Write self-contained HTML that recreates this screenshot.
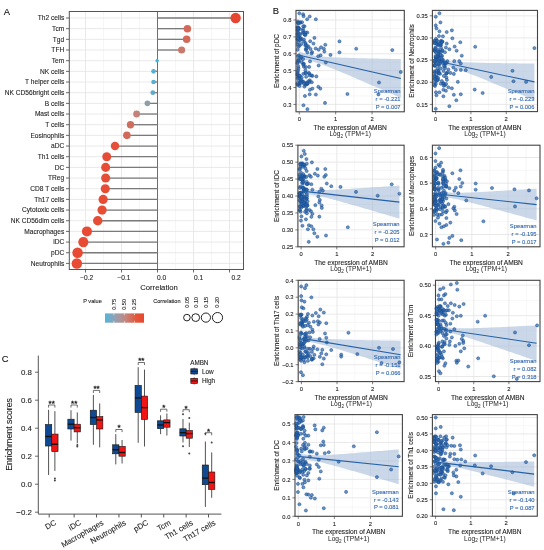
<!DOCTYPE html><html><head><meta charset="utf-8"><style>html,body{margin:0;padding:0;background:#fff;width:544px;height:550px;overflow:hidden}svg{display:block;will-change:transform}</style></head><body><svg width="544" height="550" viewBox="0 0 544 550" font-family='"Liberation Sans", sans-serif'><rect width="544" height="550" fill="#fff"/><text x="3.80" y="14.50" font-size="9.4" text-anchor="start" fill="#111" stroke="#111" stroke-width="0.1">A</text>
<line x1="103.50" y1="11.50" x2="103.50" y2="269.50" stroke="#f0f0f0" stroke-width="0.6"/>
<line x1="139.50" y1="11.50" x2="139.50" y2="269.50" stroke="#f0f0f0" stroke-width="0.6"/>
<line x1="175.50" y1="11.50" x2="175.50" y2="269.50" stroke="#f0f0f0" stroke-width="0.6"/>
<line x1="211.50" y1="11.50" x2="211.50" y2="269.50" stroke="#f0f0f0" stroke-width="0.6"/>
<line x1="85.50" y1="11.50" x2="85.50" y2="269.50" stroke="#e6e6e6" stroke-width="0.9"/>
<line x1="121.50" y1="11.50" x2="121.50" y2="269.50" stroke="#e6e6e6" stroke-width="0.9"/>
<line x1="193.50" y1="11.50" x2="193.50" y2="269.50" stroke="#e6e6e6" stroke-width="0.9"/>
<line x1="229.50" y1="11.50" x2="229.50" y2="269.50" stroke="#e6e6e6" stroke-width="0.9"/>
<line x1="69.30" y1="18.00" x2="243.50" y2="18.00" stroke="#e6e6e6" stroke-width="0.9"/>
<line x1="69.30" y1="28.67" x2="243.50" y2="28.67" stroke="#e6e6e6" stroke-width="0.9"/>
<line x1="69.30" y1="39.34" x2="243.50" y2="39.34" stroke="#e6e6e6" stroke-width="0.9"/>
<line x1="69.30" y1="50.01" x2="243.50" y2="50.01" stroke="#e6e6e6" stroke-width="0.9"/>
<line x1="69.30" y1="60.68" x2="243.50" y2="60.68" stroke="#e6e6e6" stroke-width="0.9"/>
<line x1="69.30" y1="71.35" x2="243.50" y2="71.35" stroke="#e6e6e6" stroke-width="0.9"/>
<line x1="69.30" y1="82.02" x2="243.50" y2="82.02" stroke="#e6e6e6" stroke-width="0.9"/>
<line x1="69.30" y1="92.69" x2="243.50" y2="92.69" stroke="#e6e6e6" stroke-width="0.9"/>
<line x1="69.30" y1="103.36" x2="243.50" y2="103.36" stroke="#e6e6e6" stroke-width="0.9"/>
<line x1="69.30" y1="114.03" x2="243.50" y2="114.03" stroke="#e6e6e6" stroke-width="0.9"/>
<line x1="69.30" y1="124.70" x2="243.50" y2="124.70" stroke="#e6e6e6" stroke-width="0.9"/>
<line x1="69.30" y1="135.37" x2="243.50" y2="135.37" stroke="#e6e6e6" stroke-width="0.9"/>
<line x1="69.30" y1="146.04" x2="243.50" y2="146.04" stroke="#e6e6e6" stroke-width="0.9"/>
<line x1="69.30" y1="156.71" x2="243.50" y2="156.71" stroke="#e6e6e6" stroke-width="0.9"/>
<line x1="69.30" y1="167.38" x2="243.50" y2="167.38" stroke="#e6e6e6" stroke-width="0.9"/>
<line x1="69.30" y1="178.05" x2="243.50" y2="178.05" stroke="#e6e6e6" stroke-width="0.9"/>
<line x1="69.30" y1="188.72" x2="243.50" y2="188.72" stroke="#e6e6e6" stroke-width="0.9"/>
<line x1="69.30" y1="199.39" x2="243.50" y2="199.39" stroke="#e6e6e6" stroke-width="0.9"/>
<line x1="69.30" y1="210.06" x2="243.50" y2="210.06" stroke="#e6e6e6" stroke-width="0.9"/>
<line x1="69.30" y1="220.73" x2="243.50" y2="220.73" stroke="#e6e6e6" stroke-width="0.9"/>
<line x1="69.30" y1="231.40" x2="243.50" y2="231.40" stroke="#e6e6e6" stroke-width="0.9"/>
<line x1="69.30" y1="242.07" x2="243.50" y2="242.07" stroke="#e6e6e6" stroke-width="0.9"/>
<line x1="69.30" y1="252.74" x2="243.50" y2="252.74" stroke="#e6e6e6" stroke-width="0.9"/>
<line x1="69.30" y1="263.41" x2="243.50" y2="263.41" stroke="#e6e6e6" stroke-width="0.9"/>
<line x1="157.50" y1="11.50" x2="157.50" y2="269.50" stroke="#6e6e6e" stroke-width="1.0"/>
<line x1="157.50" y1="18.00" x2="235.62" y2="18.00" stroke="#7a7a7a" stroke-width="1.3"/>
<line x1="157.50" y1="28.67" x2="187.38" y2="28.67" stroke="#7a7a7a" stroke-width="1.3"/>
<line x1="157.50" y1="39.34" x2="186.66" y2="39.34" stroke="#7a7a7a" stroke-width="1.3"/>
<line x1="157.50" y1="50.01" x2="181.62" y2="50.01" stroke="#7a7a7a" stroke-width="1.3"/>
<line x1="157.50" y1="60.68" x2="157.14" y2="60.68" stroke="#7a7a7a" stroke-width="1.3"/>
<line x1="157.50" y1="71.35" x2="153.54" y2="71.35" stroke="#7a7a7a" stroke-width="1.3"/>
<line x1="157.50" y1="82.02" x2="153.54" y2="82.02" stroke="#7a7a7a" stroke-width="1.3"/>
<line x1="157.50" y1="92.69" x2="152.82" y2="92.69" stroke="#7a7a7a" stroke-width="1.3"/>
<line x1="157.50" y1="103.36" x2="147.42" y2="103.36" stroke="#7a7a7a" stroke-width="1.3"/>
<line x1="157.50" y1="114.03" x2="136.62" y2="114.03" stroke="#7a7a7a" stroke-width="1.3"/>
<line x1="157.50" y1="124.70" x2="130.50" y2="124.70" stroke="#7a7a7a" stroke-width="1.3"/>
<line x1="157.50" y1="135.37" x2="126.90" y2="135.37" stroke="#7a7a7a" stroke-width="1.3"/>
<line x1="157.50" y1="146.04" x2="115.02" y2="146.04" stroke="#7a7a7a" stroke-width="1.3"/>
<line x1="157.50" y1="156.71" x2="106.74" y2="156.71" stroke="#7a7a7a" stroke-width="1.3"/>
<line x1="157.50" y1="167.38" x2="105.66" y2="167.38" stroke="#7a7a7a" stroke-width="1.3"/>
<line x1="157.50" y1="178.05" x2="105.66" y2="178.05" stroke="#7a7a7a" stroke-width="1.3"/>
<line x1="157.50" y1="188.72" x2="105.30" y2="188.72" stroke="#7a7a7a" stroke-width="1.3"/>
<line x1="157.50" y1="199.39" x2="103.14" y2="199.39" stroke="#7a7a7a" stroke-width="1.3"/>
<line x1="157.50" y1="210.06" x2="102.06" y2="210.06" stroke="#7a7a7a" stroke-width="1.3"/>
<line x1="157.50" y1="220.73" x2="97.74" y2="220.73" stroke="#7a7a7a" stroke-width="1.3"/>
<line x1="157.50" y1="231.40" x2="86.94" y2="231.40" stroke="#7a7a7a" stroke-width="1.3"/>
<line x1="157.50" y1="242.07" x2="83.34" y2="242.07" stroke="#7a7a7a" stroke-width="1.3"/>
<line x1="157.50" y1="252.74" x2="77.58" y2="252.74" stroke="#7a7a7a" stroke-width="1.3"/>
<line x1="157.50" y1="263.41" x2="76.86" y2="263.41" stroke="#7a7a7a" stroke-width="1.3"/>
<circle cx="235.62" cy="18.00" r="5.20" fill="#e84530" stroke="none" stroke-width="1"/>
<text x="64.20" y="20.35" font-size="6.6" text-anchor="end" fill="#1e1e1e" stroke="#1e1e1e" stroke-width="0.1">Th2 cells</text>
<line x1="66.00" y1="18.00" x2="69.30" y2="18.00" stroke="#444" stroke-width="0.8"/>
<circle cx="187.38" cy="28.67" r="3.79" fill="#d4695a" stroke="none" stroke-width="1"/>
<text x="64.20" y="31.02" font-size="6.6" text-anchor="end" fill="#1e1e1e" stroke="#1e1e1e" stroke-width="0.1">Tcm</text>
<line x1="66.00" y1="28.67" x2="69.30" y2="28.67" stroke="#444" stroke-width="0.8"/>
<circle cx="186.66" cy="39.34" r="3.76" fill="#d4695a" stroke="none" stroke-width="1"/>
<text x="64.20" y="41.69" font-size="6.6" text-anchor="end" fill="#1e1e1e" stroke="#1e1e1e" stroke-width="0.1">Tgd</text>
<line x1="66.00" y1="39.34" x2="69.30" y2="39.34" stroke="#444" stroke-width="0.8"/>
<circle cx="181.62" cy="50.01" r="3.56" fill="#c77a6c" stroke="none" stroke-width="1"/>
<text x="64.20" y="52.36" font-size="6.6" text-anchor="end" fill="#1e1e1e" stroke="#1e1e1e" stroke-width="0.1">TFH</text>
<line x1="66.00" y1="50.01" x2="69.30" y2="50.01" stroke="#444" stroke-width="0.8"/>
<circle cx="157.14" cy="60.68" r="1.75" fill="#3db4dd" stroke="none" stroke-width="1"/>
<text x="64.20" y="63.03" font-size="6.6" text-anchor="end" fill="#1e1e1e" stroke="#1e1e1e" stroke-width="0.1">Tem</text>
<line x1="66.00" y1="60.68" x2="69.30" y2="60.68" stroke="#444" stroke-width="0.8"/>
<circle cx="153.54" cy="71.35" r="2.33" fill="#58afd0" stroke="none" stroke-width="1"/>
<text x="64.20" y="73.70" font-size="6.6" text-anchor="end" fill="#1e1e1e" stroke="#1e1e1e" stroke-width="0.1">NK cells</text>
<line x1="66.00" y1="71.35" x2="69.30" y2="71.35" stroke="#444" stroke-width="0.8"/>
<circle cx="153.54" cy="82.02" r="2.33" fill="#58afd0" stroke="none" stroke-width="1"/>
<text x="64.20" y="84.37" font-size="6.6" text-anchor="end" fill="#1e1e1e" stroke="#1e1e1e" stroke-width="0.1">T helper cells</text>
<line x1="66.00" y1="82.02" x2="69.30" y2="82.02" stroke="#444" stroke-width="0.8"/>
<circle cx="152.82" cy="92.69" r="2.41" fill="#62aac6" stroke="none" stroke-width="1"/>
<text x="64.20" y="95.04" font-size="6.6" text-anchor="end" fill="#1e1e1e" stroke="#1e1e1e" stroke-width="0.1">NK CD56bright cells</text>
<line x1="66.00" y1="92.69" x2="69.30" y2="92.69" stroke="#444" stroke-width="0.8"/>
<circle cx="147.42" cy="103.36" r="2.83" fill="#8b9ea9" stroke="none" stroke-width="1"/>
<text x="64.20" y="105.71" font-size="6.6" text-anchor="end" fill="#1e1e1e" stroke="#1e1e1e" stroke-width="0.1">B cells</text>
<line x1="66.00" y1="103.36" x2="69.30" y2="103.36" stroke="#444" stroke-width="0.8"/>
<circle cx="136.62" cy="114.03" r="3.41" fill="#c4827a" stroke="none" stroke-width="1"/>
<text x="64.20" y="116.38" font-size="6.6" text-anchor="end" fill="#1e1e1e" stroke="#1e1e1e" stroke-width="0.1">Mast cells</text>
<line x1="66.00" y1="114.03" x2="69.30" y2="114.03" stroke="#444" stroke-width="0.8"/>
<circle cx="130.50" cy="124.70" r="3.68" fill="#cf6e5e" stroke="none" stroke-width="1"/>
<text x="64.20" y="127.05" font-size="6.6" text-anchor="end" fill="#1e1e1e" stroke="#1e1e1e" stroke-width="0.1">T cells</text>
<line x1="66.00" y1="124.70" x2="69.30" y2="124.70" stroke="#444" stroke-width="0.8"/>
<circle cx="126.90" cy="135.37" r="3.82" fill="#d2695a" stroke="none" stroke-width="1"/>
<text x="64.20" y="137.72" font-size="6.6" text-anchor="end" fill="#1e1e1e" stroke="#1e1e1e" stroke-width="0.1">Eosinophils</text>
<line x1="66.00" y1="135.37" x2="69.30" y2="135.37" stroke="#444" stroke-width="0.8"/>
<circle cx="115.02" cy="146.04" r="4.23" fill="#e4503a" stroke="none" stroke-width="1"/>
<text x="64.20" y="148.39" font-size="6.6" text-anchor="end" fill="#1e1e1e" stroke="#1e1e1e" stroke-width="0.1">aDC</text>
<line x1="66.00" y1="146.04" x2="69.30" y2="146.04" stroke="#444" stroke-width="0.8"/>
<circle cx="106.74" cy="156.71" r="4.49" fill="#e74c35" stroke="none" stroke-width="1"/>
<text x="64.20" y="159.06" font-size="6.6" text-anchor="end" fill="#1e1e1e" stroke="#1e1e1e" stroke-width="0.1">Th1 cells</text>
<line x1="66.00" y1="156.71" x2="69.30" y2="156.71" stroke="#444" stroke-width="0.8"/>
<circle cx="105.66" cy="167.38" r="4.52" fill="#e74c35" stroke="none" stroke-width="1"/>
<text x="64.20" y="169.73" font-size="6.6" text-anchor="end" fill="#1e1e1e" stroke="#1e1e1e" stroke-width="0.1">DC</text>
<line x1="66.00" y1="167.38" x2="69.30" y2="167.38" stroke="#444" stroke-width="0.8"/>
<circle cx="105.66" cy="178.05" r="4.52" fill="#e74c35" stroke="none" stroke-width="1"/>
<text x="64.20" y="180.40" font-size="6.6" text-anchor="end" fill="#1e1e1e" stroke="#1e1e1e" stroke-width="0.1">TReg</text>
<line x1="66.00" y1="178.05" x2="69.30" y2="178.05" stroke="#444" stroke-width="0.8"/>
<circle cx="105.30" cy="188.72" r="4.53" fill="#e74c35" stroke="none" stroke-width="1"/>
<text x="64.20" y="191.07" font-size="6.6" text-anchor="end" fill="#1e1e1e" stroke="#1e1e1e" stroke-width="0.1">CD8 T cells</text>
<line x1="66.00" y1="188.72" x2="69.30" y2="188.72" stroke="#444" stroke-width="0.8"/>
<circle cx="103.14" cy="199.39" r="4.59" fill="#e74c35" stroke="none" stroke-width="1"/>
<text x="64.20" y="201.74" font-size="6.6" text-anchor="end" fill="#1e1e1e" stroke="#1e1e1e" stroke-width="0.1">Th17 cells</text>
<line x1="66.00" y1="199.39" x2="69.30" y2="199.39" stroke="#444" stroke-width="0.8"/>
<circle cx="102.06" cy="210.06" r="4.62" fill="#e74c35" stroke="none" stroke-width="1"/>
<text x="64.20" y="212.41" font-size="6.6" text-anchor="end" fill="#1e1e1e" stroke="#1e1e1e" stroke-width="0.1">Cytotoxic cells</text>
<line x1="66.00" y1="210.06" x2="69.30" y2="210.06" stroke="#444" stroke-width="0.8"/>
<circle cx="97.74" cy="220.73" r="4.74" fill="#e74c35" stroke="none" stroke-width="1"/>
<text x="64.20" y="223.08" font-size="6.6" text-anchor="end" fill="#1e1e1e" stroke="#1e1e1e" stroke-width="0.1">NK CD56dim cells</text>
<line x1="66.00" y1="220.73" x2="69.30" y2="220.73" stroke="#444" stroke-width="0.8"/>
<circle cx="86.94" cy="231.40" r="5.02" fill="#e84a33" stroke="none" stroke-width="1"/>
<text x="64.20" y="233.75" font-size="6.6" text-anchor="end" fill="#1e1e1e" stroke="#1e1e1e" stroke-width="0.1">Macrophages</text>
<line x1="66.00" y1="231.40" x2="69.30" y2="231.40" stroke="#444" stroke-width="0.8"/>
<circle cx="83.34" cy="242.07" r="5.11" fill="#e84a33" stroke="none" stroke-width="1"/>
<text x="64.20" y="244.42" font-size="6.6" text-anchor="end" fill="#1e1e1e" stroke="#1e1e1e" stroke-width="0.1">iDC</text>
<line x1="66.00" y1="242.07" x2="69.30" y2="242.07" stroke="#444" stroke-width="0.8"/>
<circle cx="77.58" cy="252.74" r="5.25" fill="#e84a33" stroke="none" stroke-width="1"/>
<text x="64.20" y="255.09" font-size="6.6" text-anchor="end" fill="#1e1e1e" stroke="#1e1e1e" stroke-width="0.1">pDC</text>
<line x1="66.00" y1="252.74" x2="69.30" y2="252.74" stroke="#444" stroke-width="0.8"/>
<circle cx="76.86" cy="263.41" r="5.26" fill="#e84a33" stroke="none" stroke-width="1"/>
<text x="64.20" y="265.76" font-size="6.6" text-anchor="end" fill="#1e1e1e" stroke="#1e1e1e" stroke-width="0.1">Neutrophils</text>
<line x1="66.00" y1="263.41" x2="69.30" y2="263.41" stroke="#444" stroke-width="0.8"/>
<rect x="69.30" y="11.50" width="174.20" height="258.00" fill="none" stroke="#555" stroke-width="1.0"/>
<line x1="85.50" y1="269.50" x2="85.50" y2="272.50" stroke="#444" stroke-width="0.8"/>
<text x="80.20" y="279.90" font-size="6.6" text-anchor="start" fill="#1e1e1e" stroke="#1e1e1e" stroke-width="0.1">−0.2</text>
<line x1="121.50" y1="269.50" x2="121.50" y2="272.50" stroke="#444" stroke-width="0.8"/>
<text x="117.40" y="279.90" font-size="6.6" text-anchor="start" fill="#1e1e1e" stroke="#1e1e1e" stroke-width="0.1">−0.1</text>
<line x1="157.50" y1="269.50" x2="157.50" y2="272.50" stroke="#444" stroke-width="0.8"/>
<text x="157.00" y="279.90" font-size="6.6" text-anchor="start" fill="#1e1e1e" stroke="#1e1e1e" stroke-width="0.1">0.0</text>
<line x1="193.50" y1="269.50" x2="193.50" y2="272.50" stroke="#444" stroke-width="0.8"/>
<text x="194.00" y="279.90" font-size="6.6" text-anchor="start" fill="#1e1e1e" stroke="#1e1e1e" stroke-width="0.1">0.1</text>
<line x1="229.50" y1="269.50" x2="229.50" y2="272.50" stroke="#444" stroke-width="0.8"/>
<text x="231.60" y="279.90" font-size="6.6" text-anchor="start" fill="#1e1e1e" stroke="#1e1e1e" stroke-width="0.1">0.2</text>
<text x="159.00" y="289.80" font-size="7.7" text-anchor="middle" fill="#1e1e1e" stroke="#1e1e1e" stroke-width="0.1">Correlation</text>
<text x="83.20" y="303.20" font-size="5.6" text-anchor="start" fill="#1e1e1e" stroke="#1e1e1e" stroke-width="0.1">P value</text>
<text x="116.00" y="309.80" font-size="5.6" text-anchor="start" fill="#1e1e1e" stroke="#1e1e1e" stroke-width="0.1" transform="rotate(-90 116.00 309.80)">0.75</text>
<text x="125.80" y="309.80" font-size="5.6" text-anchor="start" fill="#1e1e1e" stroke="#1e1e1e" stroke-width="0.1" transform="rotate(-90 125.80 309.80)">0.50</text>
<text x="136.00" y="309.80" font-size="5.6" text-anchor="start" fill="#1e1e1e" stroke="#1e1e1e" stroke-width="0.1" transform="rotate(-90 136.00 309.80)">0.25</text>
<defs><linearGradient id="pg" x1="0" x2="1" y1="0" y2="0"><stop offset="0" stop-color="#52b5da"/><stop offset="0.28" stop-color="#98a0ae"/><stop offset="0.55" stop-color="#c7837a"/><stop offset="0.8" stop-color="#e2573c"/><stop offset="1" stop-color="#e9472c"/></linearGradient></defs>
<rect x="105.00" y="313.40" width="39.00" height="9.30" fill="url(#pg)" stroke="none" stroke-width="1"/>
<line x1="113.80" y1="313.40" x2="113.80" y2="315.20" stroke="#ffffff" stroke-width="0.6"/>
<line x1="113.80" y1="320.90" x2="113.80" y2="322.70" stroke="#ffffff" stroke-width="0.6"/>
<line x1="124.40" y1="313.40" x2="124.40" y2="315.20" stroke="#ffffff" stroke-width="0.6"/>
<line x1="124.40" y1="320.90" x2="124.40" y2="322.70" stroke="#ffffff" stroke-width="0.6"/>
<line x1="134.50" y1="313.40" x2="134.50" y2="315.20" stroke="#ffffff" stroke-width="0.6"/>
<line x1="134.50" y1="320.90" x2="134.50" y2="322.70" stroke="#ffffff" stroke-width="0.6"/>
<text x="153.20" y="303.20" font-size="5.6" text-anchor="start" fill="#1e1e1e" stroke="#1e1e1e" stroke-width="0.1">Correlation</text>
<text x="188.90" y="307.70" font-size="5.6" text-anchor="start" fill="#1e1e1e" stroke="#1e1e1e" stroke-width="0.1" transform="rotate(-90 188.90 307.70)">0.05</text>
<circle cx="186.90" cy="317.60" r="3.30" fill="none" stroke="#222" stroke-width="1.0"/>
<text x="197.70" y="307.70" font-size="5.6" text-anchor="start" fill="#1e1e1e" stroke="#1e1e1e" stroke-width="0.1" transform="rotate(-90 197.70 307.70)">0.10</text>
<circle cx="195.70" cy="317.60" r="3.90" fill="none" stroke="#222" stroke-width="1.0"/>
<text x="207.90" y="307.70" font-size="5.6" text-anchor="start" fill="#1e1e1e" stroke="#1e1e1e" stroke-width="0.1" transform="rotate(-90 207.90 307.70)">0.15</text>
<circle cx="205.90" cy="317.60" r="4.60" fill="none" stroke="#222" stroke-width="1.0"/>
<text x="219.50" y="307.70" font-size="5.6" text-anchor="start" fill="#1e1e1e" stroke="#1e1e1e" stroke-width="0.1" transform="rotate(-90 219.50 307.70)">0.20</text>
<circle cx="217.50" cy="317.60" r="5.10" fill="none" stroke="#222" stroke-width="1.0"/>
<text x="1.80" y="362.40" font-size="9.4" text-anchor="start" fill="#111" stroke="#111" stroke-width="0.1">C</text>
<line x1="38.30" y1="355.60" x2="38.30" y2="514.10" stroke="#555" stroke-width="1.0"/>
<line x1="38.30" y1="514.10" x2="221.40" y2="514.10" stroke="#555" stroke-width="1.0"/>
<line x1="35.00" y1="372.20" x2="38.30" y2="372.20" stroke="#444" stroke-width="0.8"/>
<text x="31.90" y="375.00" font-size="7.9" text-anchor="end" fill="#1e1e1e" stroke="#1e1e1e" stroke-width="0.1">0.8</text>
<line x1="35.00" y1="400.20" x2="38.30" y2="400.20" stroke="#444" stroke-width="0.8"/>
<text x="31.90" y="403.00" font-size="7.9" text-anchor="end" fill="#1e1e1e" stroke="#1e1e1e" stroke-width="0.1">0.6</text>
<line x1="35.00" y1="428.20" x2="38.30" y2="428.20" stroke="#444" stroke-width="0.8"/>
<text x="31.90" y="431.00" font-size="7.9" text-anchor="end" fill="#1e1e1e" stroke="#1e1e1e" stroke-width="0.1">0.4</text>
<line x1="35.00" y1="456.20" x2="38.30" y2="456.20" stroke="#444" stroke-width="0.8"/>
<text x="31.90" y="459.00" font-size="7.9" text-anchor="end" fill="#1e1e1e" stroke="#1e1e1e" stroke-width="0.1">0.2</text>
<line x1="35.00" y1="484.20" x2="38.30" y2="484.20" stroke="#444" stroke-width="0.8"/>
<text x="31.90" y="487.00" font-size="7.9" text-anchor="end" fill="#1e1e1e" stroke="#1e1e1e" stroke-width="0.1">0.0</text>
<line x1="35.00" y1="512.20" x2="38.30" y2="512.20" stroke="#444" stroke-width="0.8"/>
<text x="31.90" y="515.00" font-size="7.9" text-anchor="end" fill="#1e1e1e" stroke="#1e1e1e" stroke-width="0.1">−0.2</text>
<text x="11.60" y="434.40" font-size="8.8" text-anchor="middle" fill="#1a1a1a" stroke="#1a1a1a" stroke-width="0.1" transform="rotate(-90 11.60 434.40)">Enrichment scores</text>
<line x1="48.59" y1="409.80" x2="48.59" y2="424.60" stroke="#4a4a4a" stroke-width="0.95"/>
<line x1="48.59" y1="446.00" x2="48.59" y2="475.00" stroke="#4a4a4a" stroke-width="0.95"/>
<rect x="45.44" y="424.60" width="6.30" height="21.40" fill="#0d4a93" stroke="#111" stroke-width="0.6"/>
<line x1="45.44" y1="436.50" x2="51.74" y2="436.50" stroke="#111" stroke-width="1.35"/>
<line x1="54.89" y1="411.10" x2="54.89" y2="434.10" stroke="#4a4a4a" stroke-width="0.95"/>
<line x1="54.89" y1="451.60" x2="54.89" y2="470.90" stroke="#4a4a4a" stroke-width="0.95"/>
<rect x="51.74" y="434.10" width="6.30" height="17.50" fill="#f01414" stroke="#111" stroke-width="0.6"/>
<line x1="51.74" y1="444.20" x2="58.04" y2="444.20" stroke="#111" stroke-width="1.35"/>
<circle cx="54.89" cy="478.50" r="1.00" fill="#444" stroke="none" stroke-width="1"/>
<circle cx="54.89" cy="480.50" r="1.00" fill="#444" stroke="none" stroke-width="1"/>
<polyline points="48.59,407.60 48.59,405.00 54.89,405.00 54.89,407.60" fill="none" stroke="#333" stroke-width="0.7"/>
<text x="51.74" y="405.90" font-size="8.0" text-anchor="middle" fill="#222" stroke="#222" stroke-width="0.35">**</text>
<line x1="49.20" y1="514.10" x2="49.20" y2="517.50" stroke="#444" stroke-width="0.9"/>
<text x="56.80" y="524.20" font-size="7.8" text-anchor="end" fill="#1e1e1e" stroke="#1e1e1e" stroke-width="0.1" transform="rotate(-30 56.80 524.20)">DC</text>
<line x1="70.99" y1="410.20" x2="70.99" y2="419.20" stroke="#4a4a4a" stroke-width="0.95"/>
<line x1="70.99" y1="429.00" x2="70.99" y2="440.60" stroke="#4a4a4a" stroke-width="0.95"/>
<rect x="67.84" y="419.20" width="6.30" height="9.80" fill="#0d4a93" stroke="#111" stroke-width="0.6"/>
<line x1="67.84" y1="424.20" x2="74.14" y2="424.20" stroke="#111" stroke-width="1.35"/>
<line x1="77.29" y1="412.40" x2="77.29" y2="424.20" stroke="#4a4a4a" stroke-width="0.95"/>
<line x1="77.29" y1="431.90" x2="77.29" y2="443.30" stroke="#4a4a4a" stroke-width="0.95"/>
<rect x="74.14" y="424.20" width="6.30" height="7.70" fill="#f01414" stroke="#111" stroke-width="0.6"/>
<line x1="74.14" y1="427.70" x2="80.44" y2="427.70" stroke="#111" stroke-width="1.35"/>
<circle cx="77.29" cy="445.00" r="1.00" fill="#444" stroke="none" stroke-width="1"/>
<circle cx="77.29" cy="446.50" r="1.00" fill="#444" stroke="none" stroke-width="1"/>
<polyline points="70.99,407.60 70.99,405.00 77.29,405.00 77.29,407.60" fill="none" stroke="#333" stroke-width="0.7"/>
<text x="74.14" y="405.90" font-size="8.0" text-anchor="middle" fill="#222" stroke="#222" stroke-width="0.35">**</text>
<line x1="74.14" y1="514.10" x2="74.14" y2="517.50" stroke="#444" stroke-width="0.9"/>
<text x="81.74" y="524.20" font-size="7.8" text-anchor="end" fill="#1e1e1e" stroke="#1e1e1e" stroke-width="0.1" transform="rotate(-30 81.74 524.20)">iDC</text>
<line x1="93.39" y1="394.90" x2="93.39" y2="410.20" stroke="#4a4a4a" stroke-width="0.95"/>
<line x1="93.39" y1="424.60" x2="93.39" y2="444.80" stroke="#4a4a4a" stroke-width="0.95"/>
<rect x="90.24" y="410.20" width="6.30" height="14.40" fill="#0d4a93" stroke="#111" stroke-width="0.6"/>
<line x1="90.24" y1="417.50" x2="96.54" y2="417.50" stroke="#111" stroke-width="1.35"/>
<line x1="99.69" y1="403.40" x2="99.69" y2="416.60" stroke="#4a4a4a" stroke-width="0.95"/>
<line x1="99.69" y1="429.00" x2="99.69" y2="447.40" stroke="#4a4a4a" stroke-width="0.95"/>
<rect x="96.54" y="416.60" width="6.30" height="12.40" fill="#f01414" stroke="#111" stroke-width="0.6"/>
<line x1="96.54" y1="420.00" x2="102.84" y2="420.00" stroke="#111" stroke-width="1.35"/>
<polyline points="93.39,393.00 93.39,390.40 99.69,390.40 99.69,393.00" fill="none" stroke="#333" stroke-width="0.7"/>
<text x="96.54" y="391.30" font-size="8.0" text-anchor="middle" fill="#222" stroke="#222" stroke-width="0.35">**</text>
<line x1="96.54" y1="514.10" x2="96.54" y2="517.50" stroke="#444" stroke-width="0.9"/>
<text x="104.14" y="524.20" font-size="7.8" text-anchor="end" fill="#1e1e1e" stroke="#1e1e1e" stroke-width="0.1" transform="rotate(-30 104.14 524.20)">Macrophages</text>
<line x1="115.79" y1="434.10" x2="115.79" y2="444.80" stroke="#4a4a4a" stroke-width="0.95"/>
<line x1="115.79" y1="453.80" x2="115.79" y2="464.40" stroke="#4a4a4a" stroke-width="0.95"/>
<rect x="112.64" y="444.80" width="6.30" height="9.00" fill="#0d4a93" stroke="#111" stroke-width="0.6"/>
<line x1="112.64" y1="449.70" x2="118.94" y2="449.70" stroke="#111" stroke-width="1.35"/>
<line x1="122.09" y1="440.00" x2="122.09" y2="446.40" stroke="#4a4a4a" stroke-width="0.95"/>
<line x1="122.09" y1="456.20" x2="122.09" y2="463.50" stroke="#4a4a4a" stroke-width="0.95"/>
<rect x="118.94" y="446.40" width="6.30" height="9.80" fill="#f01414" stroke="#111" stroke-width="0.6"/>
<line x1="118.94" y1="452.50" x2="125.24" y2="452.50" stroke="#111" stroke-width="1.35"/>
<polyline points="115.79,432.10 115.79,429.50 122.09,429.50 122.09,432.10" fill="none" stroke="#333" stroke-width="0.7"/>
<text x="118.94" y="430.40" font-size="8.0" text-anchor="middle" fill="#222" stroke="#222" stroke-width="0.35">*</text>
<line x1="118.94" y1="514.10" x2="118.94" y2="517.50" stroke="#444" stroke-width="0.9"/>
<text x="126.54" y="524.20" font-size="7.8" text-anchor="end" fill="#1e1e1e" stroke="#1e1e1e" stroke-width="0.1" transform="rotate(-30 126.54 524.20)">Neutrophils</text>
<line x1="138.19" y1="367.20" x2="138.19" y2="385.40" stroke="#4a4a4a" stroke-width="0.95"/>
<line x1="138.19" y1="412.50" x2="138.19" y2="442.80" stroke="#4a4a4a" stroke-width="0.95"/>
<rect x="135.04" y="385.40" width="6.30" height="27.10" fill="#0d4a93" stroke="#111" stroke-width="0.6"/>
<line x1="135.04" y1="397.90" x2="141.34" y2="397.90" stroke="#111" stroke-width="1.35"/>
<line x1="144.49" y1="369.60" x2="144.49" y2="396.10" stroke="#4a4a4a" stroke-width="0.95"/>
<line x1="144.49" y1="419.50" x2="144.49" y2="446.50" stroke="#4a4a4a" stroke-width="0.95"/>
<rect x="141.34" y="396.10" width="6.30" height="23.40" fill="#f01414" stroke="#111" stroke-width="0.6"/>
<line x1="141.34" y1="407.60" x2="147.64" y2="407.60" stroke="#111" stroke-width="1.35"/>
<polyline points="138.19,365.10 138.19,362.50 144.49,362.50 144.49,365.10" fill="none" stroke="#333" stroke-width="0.7"/>
<text x="141.34" y="363.40" font-size="8.0" text-anchor="middle" fill="#222" stroke="#222" stroke-width="0.35">**</text>
<line x1="141.34" y1="514.10" x2="141.34" y2="517.50" stroke="#444" stroke-width="0.9"/>
<text x="148.94" y="524.20" font-size="7.8" text-anchor="end" fill="#1e1e1e" stroke="#1e1e1e" stroke-width="0.1" transform="rotate(-30 148.94 524.20)">pDC</text>
<line x1="160.59" y1="415.30" x2="160.59" y2="420.80" stroke="#4a4a4a" stroke-width="0.95"/>
<line x1="160.59" y1="428.70" x2="160.59" y2="434.20" stroke="#4a4a4a" stroke-width="0.95"/>
<rect x="157.44" y="420.80" width="6.30" height="7.90" fill="#0d4a93" stroke="#111" stroke-width="0.6"/>
<line x1="157.44" y1="425.00" x2="163.74" y2="425.00" stroke="#111" stroke-width="1.35"/>
<line x1="166.89" y1="413.40" x2="166.89" y2="419.90" stroke="#4a4a4a" stroke-width="0.95"/>
<line x1="166.89" y1="427.20" x2="166.89" y2="435.50" stroke="#4a4a4a" stroke-width="0.95"/>
<rect x="163.74" y="419.90" width="6.30" height="7.30" fill="#f01414" stroke="#111" stroke-width="0.6"/>
<line x1="163.74" y1="422.60" x2="170.04" y2="422.60" stroke="#111" stroke-width="1.35"/>
<polyline points="160.59,411.80 160.59,409.20 166.89,409.20 166.89,411.80" fill="none" stroke="#333" stroke-width="0.7"/>
<text x="163.74" y="410.10" font-size="8.0" text-anchor="middle" fill="#222" stroke="#222" stroke-width="0.35">*</text>
<line x1="163.74" y1="514.10" x2="163.74" y2="517.50" stroke="#444" stroke-width="0.9"/>
<text x="171.34" y="524.20" font-size="7.8" text-anchor="end" fill="#1e1e1e" stroke="#1e1e1e" stroke-width="0.1" transform="rotate(-30 171.34 524.20)">Tcm</text>
<line x1="182.99" y1="419.00" x2="182.99" y2="428.80" stroke="#4a4a4a" stroke-width="0.95"/>
<line x1="182.99" y1="436.00" x2="182.99" y2="442.50" stroke="#4a4a4a" stroke-width="0.95"/>
<rect x="179.84" y="428.80" width="6.30" height="7.20" fill="#0d4a93" stroke="#111" stroke-width="0.6"/>
<line x1="179.84" y1="432.70" x2="186.14" y2="432.70" stroke="#111" stroke-width="1.35"/>
<circle cx="182.99" cy="414.30" r="1.00" fill="#444" stroke="none" stroke-width="1"/>
<circle cx="182.99" cy="446.30" r="1.00" fill="#444" stroke="none" stroke-width="1"/>
<line x1="189.29" y1="422.60" x2="189.29" y2="430.50" stroke="#4a4a4a" stroke-width="0.95"/>
<line x1="189.29" y1="438.20" x2="189.29" y2="447.00" stroke="#4a4a4a" stroke-width="0.95"/>
<rect x="186.14" y="430.50" width="6.30" height="7.70" fill="#f01414" stroke="#111" stroke-width="0.6"/>
<line x1="186.14" y1="433.60" x2="192.44" y2="433.60" stroke="#111" stroke-width="1.35"/>
<circle cx="189.29" cy="418.00" r="1.00" fill="#444" stroke="none" stroke-width="1"/>
<circle cx="189.29" cy="453.50" r="1.00" fill="#444" stroke="none" stroke-width="1"/>
<polyline points="182.99,412.30 182.99,409.70 189.29,409.70 189.29,412.30" fill="none" stroke="#333" stroke-width="0.7"/>
<text x="186.14" y="410.60" font-size="8.0" text-anchor="middle" fill="#222" stroke="#222" stroke-width="0.35">*</text>
<line x1="186.14" y1="514.10" x2="186.14" y2="517.50" stroke="#444" stroke-width="0.9"/>
<text x="193.74" y="524.20" font-size="7.8" text-anchor="end" fill="#1e1e1e" stroke="#1e1e1e" stroke-width="0.1" transform="rotate(-30 193.74 524.20)">Th1 cells</text>
<line x1="205.39" y1="441.50" x2="205.39" y2="465.00" stroke="#4a4a4a" stroke-width="0.95"/>
<line x1="205.39" y1="484.70" x2="205.39" y2="506.90" stroke="#4a4a4a" stroke-width="0.95"/>
<rect x="202.24" y="465.00" width="6.30" height="19.70" fill="#0d4a93" stroke="#111" stroke-width="0.6"/>
<line x1="202.24" y1="478.10" x2="208.54" y2="478.10" stroke="#111" stroke-width="1.35"/>
<circle cx="205.39" cy="433.80" r="1.00" fill="#444" stroke="none" stroke-width="1"/>
<line x1="211.69" y1="452.40" x2="211.69" y2="472.00" stroke="#4a4a4a" stroke-width="0.95"/>
<line x1="211.69" y1="489.50" x2="211.69" y2="497.80" stroke="#4a4a4a" stroke-width="0.95"/>
<rect x="208.54" y="472.00" width="6.30" height="17.50" fill="#f01414" stroke="#111" stroke-width="0.6"/>
<line x1="208.54" y1="482.50" x2="214.84" y2="482.50" stroke="#111" stroke-width="1.35"/>
<circle cx="211.69" cy="442.50" r="1.00" fill="#444" stroke="none" stroke-width="1"/>
<polyline points="205.39,435.30 205.39,432.70 211.69,432.70 211.69,435.30" fill="none" stroke="#333" stroke-width="0.7"/>
<text x="208.54" y="433.60" font-size="8.0" text-anchor="middle" fill="#222" stroke="#222" stroke-width="0.35">*</text>
<line x1="208.54" y1="514.10" x2="208.54" y2="517.50" stroke="#444" stroke-width="0.9"/>
<text x="216.14" y="524.20" font-size="7.8" text-anchor="end" fill="#1e1e1e" stroke="#1e1e1e" stroke-width="0.1" transform="rotate(-30 216.14 524.20)">Th17 cells</text>
<text x="190.20" y="365.00" font-size="6.3" text-anchor="start" fill="#1e1e1e" stroke="#1e1e1e" stroke-width="0.1">AMBN</text>
<line x1="194.20" y1="367.60" x2="194.20" y2="375.20" stroke="#333" stroke-width="0.6"/>
<rect x="190.80" y="368.80" width="6.80" height="5.20" fill="#0d4a93" stroke="#111" stroke-width="0.6"/>
<line x1="190.80" y1="371.40" x2="197.60" y2="371.40" stroke="#111" stroke-width="0.8"/>
<text x="202.00" y="373.70" font-size="6.4" text-anchor="start" fill="#1e1e1e" stroke="#1e1e1e" stroke-width="0.1">Low</text>
<line x1="194.20" y1="377.10" x2="194.20" y2="384.70" stroke="#333" stroke-width="0.6"/>
<rect x="190.80" y="378.30" width="6.80" height="5.20" fill="#f01414" stroke="#111" stroke-width="0.6"/>
<line x1="190.80" y1="380.90" x2="197.60" y2="380.90" stroke="#111" stroke-width="0.8"/>
<text x="202.00" y="383.20" font-size="6.4" text-anchor="start" fill="#1e1e1e" stroke="#1e1e1e" stroke-width="0.1">High</text>
<text x="272.80" y="13.90" font-size="9.4" text-anchor="start" fill="#111" stroke="#111" stroke-width="0.1">B</text>
<line x1="296.00" y1="11.56" x2="404.30" y2="11.56" stroke="#f2f2f2" stroke-width="0.6"/>
<line x1="296.00" y1="28.44" x2="404.30" y2="28.44" stroke="#f2f2f2" stroke-width="0.6"/>
<line x1="296.00" y1="45.32" x2="404.30" y2="45.32" stroke="#f2f2f2" stroke-width="0.6"/>
<line x1="296.00" y1="62.20" x2="404.30" y2="62.20" stroke="#f2f2f2" stroke-width="0.6"/>
<line x1="296.00" y1="79.08" x2="404.30" y2="79.08" stroke="#f2f2f2" stroke-width="0.6"/>
<line x1="296.00" y1="95.96" x2="404.30" y2="95.96" stroke="#f2f2f2" stroke-width="0.6"/>
<line x1="317.48" y1="10.40" x2="317.48" y2="111.80" stroke="#f2f2f2" stroke-width="0.6"/>
<line x1="353.89" y1="10.40" x2="353.89" y2="111.80" stroke="#f2f2f2" stroke-width="0.6"/>
<line x1="390.29" y1="10.40" x2="390.29" y2="111.80" stroke="#f2f2f2" stroke-width="0.6"/>
<line x1="296.00" y1="20.00" x2="404.30" y2="20.00" stroke="#e3e3e3" stroke-width="0.8"/>
<line x1="296.00" y1="36.88" x2="404.30" y2="36.88" stroke="#e3e3e3" stroke-width="0.8"/>
<line x1="296.00" y1="53.76" x2="404.30" y2="53.76" stroke="#e3e3e3" stroke-width="0.8"/>
<line x1="296.00" y1="70.64" x2="404.30" y2="70.64" stroke="#e3e3e3" stroke-width="0.8"/>
<line x1="296.00" y1="87.52" x2="404.30" y2="87.52" stroke="#e3e3e3" stroke-width="0.8"/>
<line x1="296.00" y1="104.40" x2="404.30" y2="104.40" stroke="#e3e3e3" stroke-width="0.8"/>
<line x1="299.28" y1="10.40" x2="299.28" y2="111.80" stroke="#e3e3e3" stroke-width="0.8"/>
<line x1="335.68" y1="10.40" x2="335.68" y2="111.80" stroke="#e3e3e3" stroke-width="0.8"/>
<line x1="372.09" y1="10.40" x2="372.09" y2="111.80" stroke="#e3e3e3" stroke-width="0.8"/>
<polygon points="299.30,51.54 301.84,52.42 304.38,53.23 306.91,53.97 309.45,54.62 311.99,55.17 314.53,55.63 317.06,56.01 319.60,56.32 322.14,56.57 324.68,56.79 327.21,56.97 329.75,57.12 332.29,57.26 334.82,57.38 337.36,57.49 339.90,57.59 342.44,57.68 344.98,57.77 347.51,57.85 350.05,57.93 352.59,58.00 355.12,58.07 357.66,58.14 360.20,58.21 362.74,58.27 365.27,58.33 367.81,58.39 370.35,58.45 372.89,58.51 375.43,58.57 377.96,58.62 380.50,58.68 383.04,58.73 385.58,58.79 388.11,58.84 390.65,58.89 393.19,58.95 395.73,59.00 398.26,59.05 400.80,59.10 400.80,97.90 398.26,96.79 395.73,95.68 393.19,94.57 390.65,93.47 388.11,92.36 385.58,91.25 383.04,90.15 380.50,89.04 377.96,87.94 375.43,86.83 372.89,85.73 370.35,84.63 367.81,83.53 365.27,82.43 362.74,81.33 360.20,80.23 357.66,79.14 355.12,78.05 352.59,76.96 350.05,75.87 347.51,74.79 344.98,73.71 342.44,72.64 339.90,71.57 337.36,70.51 334.82,69.46 332.29,68.42 329.75,67.40 327.21,66.39 324.68,65.41 322.14,64.47 319.60,63.56 317.06,62.71 314.53,61.93 311.99,61.23 309.45,60.62 306.91,60.11 304.38,59.69 301.84,59.34 299.30,59.06" fill="#9db6d6" fill-opacity="0.55"/>
<g fill="#2a66ad" fill-opacity="0.7" stroke="#184c90" stroke-opacity="0.9" stroke-width="0.55"><circle cx="299.31" cy="13.31" r="1.55"/><circle cx="303.09" cy="14.25" r="1.55"/><circle cx="303.56" cy="16.14" r="1.55"/><circle cx="309.71" cy="16.43" r="1.55"/><circle cx="307.15" cy="19.26" r="1.55"/><circle cx="315.85" cy="19.26" r="1.55"/><circle cx="300.25" cy="22.29" r="1.55"/><circle cx="304.51" cy="26.26" r="1.55"/><circle cx="307.34" cy="32.50" r="1.55"/><circle cx="314.43" cy="37.88" r="1.55"/><circle cx="310.18" cy="41.19" r="1.55"/><circle cx="313.49" cy="43.55" r="1.55"/><circle cx="339.48" cy="41.38" r="1.55"/><circle cx="339.48" cy="52.34" r="1.55"/><circle cx="325.30" cy="44.78" r="1.55"/><circle cx="318.68" cy="49.70" r="1.55"/><circle cx="321.05" cy="47.33" r="1.55"/><circle cx="323.88" cy="48.75" r="1.55"/><circle cx="324.36" cy="51.59" r="1.55"/><circle cx="312.07" cy="52.06" r="1.55"/><circle cx="330.50" cy="54.90" r="1.55"/><circle cx="320.57" cy="55.37" r="1.55"/><circle cx="318.21" cy="56.31" r="1.55"/><circle cx="318.64" cy="65.46" r="1.55"/><circle cx="325.79" cy="62.48" r="1.55"/><circle cx="312.39" cy="75.89" r="1.55"/><circle cx="316.36" cy="76.39" r="1.55"/><circle cx="307.42" cy="84.03" r="1.55"/><circle cx="304.44" cy="86.61" r="1.55"/><circle cx="299.48" cy="83.83" r="1.55"/><circle cx="318.34" cy="86.81" r="1.55"/><circle cx="320.33" cy="88.60" r="1.55"/><circle cx="312.39" cy="88.60" r="1.55"/><circle cx="309.90" cy="89.79" r="1.55"/><circle cx="309.70" cy="94.26" r="1.55"/><circle cx="315.86" cy="94.56" r="1.55"/><circle cx="304.94" cy="95.95" r="1.55"/><circle cx="347.44" cy="93.96" r="1.55"/><circle cx="325.00" cy="102.90" r="1.55"/><circle cx="303.45" cy="105.18" r="1.55"/><circle cx="307.42" cy="109.16" r="1.55"/><circle cx="356.20" cy="48.70" r="1.55"/><circle cx="392.30" cy="50.10" r="1.55"/><circle cx="400.80" cy="72.00" r="1.55"/><circle cx="379.00" cy="82.50" r="1.55"/><circle cx="378.40" cy="94.40" r="1.55"/><circle cx="299.71" cy="37.23" r="1.55"/><circle cx="304.93" cy="34.50" r="1.55"/><circle cx="300.19" cy="38.03" r="1.55"/><circle cx="297.98" cy="35.85" r="1.55"/><circle cx="301.37" cy="44.00" r="1.55"/><circle cx="297.65" cy="29.80" r="1.55"/><circle cx="297.64" cy="44.48" r="1.55"/><circle cx="302.06" cy="22.21" r="1.55"/><circle cx="305.74" cy="48.98" r="1.55"/><circle cx="301.63" cy="38.85" r="1.55"/><circle cx="297.87" cy="21.44" r="1.55"/><circle cx="300.37" cy="22.73" r="1.55"/><circle cx="298.01" cy="28.02" r="1.55"/><circle cx="297.52" cy="34.45" r="1.55"/><circle cx="299.61" cy="45.43" r="1.55"/><circle cx="300.29" cy="39.57" r="1.55"/><circle cx="300.11" cy="40.21" r="1.55"/><circle cx="299.75" cy="29.07" r="1.55"/><circle cx="305.97" cy="49.88" r="1.55"/><circle cx="303.82" cy="41.53" r="1.55"/><circle cx="298.69" cy="27.66" r="1.55"/><circle cx="298.53" cy="23.04" r="1.55"/><circle cx="302.91" cy="32.61" r="1.55"/><circle cx="303.90" cy="32.21" r="1.55"/><circle cx="305.40" cy="45.57" r="1.55"/><circle cx="297.50" cy="27.08" r="1.55"/><circle cx="304.74" cy="34.63" r="1.55"/><circle cx="305.72" cy="32.53" r="1.55"/><circle cx="297.60" cy="39.25" r="1.55"/><circle cx="303.05" cy="28.82" r="1.55"/><circle cx="297.63" cy="30.64" r="1.55"/><circle cx="305.49" cy="42.98" r="1.55"/><circle cx="297.72" cy="28.15" r="1.55"/><circle cx="297.67" cy="22.74" r="1.55"/><circle cx="303.28" cy="26.15" r="1.55"/><circle cx="300.67" cy="33.98" r="1.55"/><circle cx="298.01" cy="42.22" r="1.55"/><circle cx="297.77" cy="39.67" r="1.55"/><circle cx="297.72" cy="33.20" r="1.55"/><circle cx="298.11" cy="28.82" r="1.55"/><circle cx="305.58" cy="44.30" r="1.55"/><circle cx="298.62" cy="46.66" r="1.55"/><circle cx="298.10" cy="32.43" r="1.55"/><circle cx="304.00" cy="39.61" r="1.55"/><circle cx="297.67" cy="49.69" r="1.55"/><circle cx="298.11" cy="28.49" r="1.55"/><circle cx="302.98" cy="30.54" r="1.55"/><circle cx="298.58" cy="23.13" r="1.55"/><circle cx="297.64" cy="37.90" r="1.55"/><circle cx="298.27" cy="38.44" r="1.55"/><circle cx="299.08" cy="34.14" r="1.55"/><circle cx="305.42" cy="35.03" r="1.55"/><circle cx="303.15" cy="81.86" r="1.55"/><circle cx="298.31" cy="59.78" r="1.55"/><circle cx="309.82" cy="80.35" r="1.55"/><circle cx="298.87" cy="60.88" r="1.55"/><circle cx="306.18" cy="84.15" r="1.55"/><circle cx="298.41" cy="84.45" r="1.55"/><circle cx="309.22" cy="73.71" r="1.55"/><circle cx="300.84" cy="58.22" r="1.55"/><circle cx="297.56" cy="84.84" r="1.55"/><circle cx="298.77" cy="76.84" r="1.55"/><circle cx="298.94" cy="80.54" r="1.55"/><circle cx="303.52" cy="64.10" r="1.55"/><circle cx="298.25" cy="77.33" r="1.55"/><circle cx="297.65" cy="62.08" r="1.55"/><circle cx="302.90" cy="81.42" r="1.55"/><circle cx="303.83" cy="63.69" r="1.55"/><circle cx="310.02" cy="61.32" r="1.55"/><circle cx="297.51" cy="63.35" r="1.55"/><circle cx="301.17" cy="56.87" r="1.55"/><circle cx="298.26" cy="66.43" r="1.55"/><circle cx="303.11" cy="59.08" r="1.55"/><circle cx="300.08" cy="82.62" r="1.55"/><circle cx="311.52" cy="75.36" r="1.55"/><circle cx="305.24" cy="73.12" r="1.55"/><circle cx="298.01" cy="56.09" r="1.55"/><circle cx="297.52" cy="83.22" r="1.55"/><circle cx="305.43" cy="84.85" r="1.55"/><circle cx="297.52" cy="74.72" r="1.55"/><circle cx="301.70" cy="77.65" r="1.55"/><circle cx="299.58" cy="85.98" r="1.55"/><circle cx="297.68" cy="71.93" r="1.55"/><circle cx="306.13" cy="82.91" r="1.55"/><circle cx="306.13" cy="76.81" r="1.55"/><circle cx="307.28" cy="83.37" r="1.55"/><circle cx="299.96" cy="76.24" r="1.55"/><circle cx="309.64" cy="82.00" r="1.55"/><circle cx="300.78" cy="79.51" r="1.55"/><circle cx="308.80" cy="72.76" r="1.55"/><circle cx="304.02" cy="66.85" r="1.55"/><circle cx="303.29" cy="73.87" r="1.55"/><circle cx="297.70" cy="74.82" r="1.55"/><circle cx="311.84" cy="82.27" r="1.55"/><circle cx="305.96" cy="67.04" r="1.55"/><circle cx="306.09" cy="73.01" r="1.55"/><circle cx="301.10" cy="80.99" r="1.55"/><circle cx="297.71" cy="78.26" r="1.55"/><circle cx="297.54" cy="73.64" r="1.55"/><circle cx="301.68" cy="62.14" r="1.55"/><circle cx="305.38" cy="70.41" r="1.55"/><circle cx="303.84" cy="83.53" r="1.55"/><circle cx="298.93" cy="55.35" r="1.55"/><circle cx="299.38" cy="76.02" r="1.55"/><circle cx="298.46" cy="60.26" r="1.55"/><circle cx="309.75" cy="75.46" r="1.55"/><circle cx="301.12" cy="82.64" r="1.55"/><circle cx="299.67" cy="75.64" r="1.55"/><circle cx="298.43" cy="68.36" r="1.55"/><circle cx="307.55" cy="83.34" r="1.55"/><circle cx="309.17" cy="66.92" r="1.55"/><circle cx="303.30" cy="64.81" r="1.55"/><circle cx="297.99" cy="70.39" r="1.55"/><circle cx="308.22" cy="81.31" r="1.55"/><circle cx="311.60" cy="53.50" r="1.55"/><circle cx="307.13" cy="45.69" r="1.55"/><circle cx="308.58" cy="46.75" r="1.55"/><circle cx="306.73" cy="48.14" r="1.55"/><circle cx="310.51" cy="48.94" r="1.55"/><circle cx="307.41" cy="52.39" r="1.55"/><circle cx="315.70" cy="48.52" r="1.55"/></g>
<line x1="299.30" y1="55.30" x2="400.80" y2="78.50" stroke="#2360a8" stroke-width="1.1"/>
<rect x="296.00" y="10.40" width="108.30" height="101.40" fill="none" stroke="#444" stroke-width="1.1"/>
<line x1="293.40" y1="20.00" x2="296.00" y2="20.00" stroke="#444" stroke-width="0.7"/>
<text x="291.40" y="22.20" font-size="5.8" text-anchor="end" fill="#1e1e1e" stroke="#1e1e1e" stroke-width="0.1">0.8</text>
<line x1="293.40" y1="36.88" x2="296.00" y2="36.88" stroke="#444" stroke-width="0.7"/>
<text x="291.40" y="39.08" font-size="5.8" text-anchor="end" fill="#1e1e1e" stroke="#1e1e1e" stroke-width="0.1">0.7</text>
<line x1="293.40" y1="53.76" x2="296.00" y2="53.76" stroke="#444" stroke-width="0.7"/>
<text x="291.40" y="55.96" font-size="5.8" text-anchor="end" fill="#1e1e1e" stroke="#1e1e1e" stroke-width="0.1">0.6</text>
<line x1="293.40" y1="70.64" x2="296.00" y2="70.64" stroke="#444" stroke-width="0.7"/>
<text x="291.40" y="72.84" font-size="5.8" text-anchor="end" fill="#1e1e1e" stroke="#1e1e1e" stroke-width="0.1">0.5</text>
<line x1="293.40" y1="87.52" x2="296.00" y2="87.52" stroke="#444" stroke-width="0.7"/>
<text x="291.40" y="89.72" font-size="5.8" text-anchor="end" fill="#1e1e1e" stroke="#1e1e1e" stroke-width="0.1">0.4</text>
<line x1="293.40" y1="104.40" x2="296.00" y2="104.40" stroke="#444" stroke-width="0.7"/>
<text x="291.40" y="106.60" font-size="5.8" text-anchor="end" fill="#1e1e1e" stroke="#1e1e1e" stroke-width="0.1">0.3</text>
<line x1="299.28" y1="111.80" x2="299.28" y2="114.40" stroke="#444" stroke-width="0.7"/>
<text x="299.28" y="121.00" font-size="5.8" text-anchor="middle" fill="#1e1e1e" stroke="#1e1e1e" stroke-width="0.1">0</text>
<line x1="335.68" y1="111.80" x2="335.68" y2="114.40" stroke="#444" stroke-width="0.7"/>
<text x="335.68" y="121.00" font-size="5.8" text-anchor="middle" fill="#1e1e1e" stroke="#1e1e1e" stroke-width="0.1">1</text>
<line x1="372.09" y1="111.80" x2="372.09" y2="114.40" stroke="#444" stroke-width="0.7"/>
<text x="372.09" y="121.00" font-size="5.8" text-anchor="middle" fill="#1e1e1e" stroke="#1e1e1e" stroke-width="0.1">2</text>
<text x="350.15" y="129.70" font-size="6.65" text-anchor="middle" fill="#222" stroke="#222" stroke-width="0.1">The expression of AMBN</text>
<text x="350.15" y="136.40" font-size="6.65" text-anchor="middle" fill="#222" >Log<tspan font-size="4.6" dy="1.6">2</tspan><tspan dy="-1.6"> (TPM+1)</tspan></text>
<text x="278.80" y="61.10" font-size="6.4" text-anchor="middle" fill="#222" stroke="#222" stroke-width="0.1" transform="rotate(-90 278.80 61.10)">Enrichment of pDC</text>
<text x="400.60" y="92.50" font-size="5.8" text-anchor="end" fill="#2f66ad" stroke="#2f66ad" stroke-width="0.1">Spearman</text>
<text x="400.60" y="101.00" font-size="5.8" text-anchor="end" fill="#2f66ad" stroke="#2f66ad" stroke-width="0.1">r = -0.221</text>
<text x="400.60" y="109.10" font-size="5.8" text-anchor="end" fill="#2f66ad" stroke="#2f66ad" stroke-width="0.1">P = 0.007</text>
<line x1="432.40" y1="26.88" x2="537.50" y2="26.88" stroke="#f2f2f2" stroke-width="0.6"/>
<line x1="432.40" y1="49.03" x2="537.50" y2="49.03" stroke="#f2f2f2" stroke-width="0.6"/>
<line x1="432.40" y1="71.18" x2="537.50" y2="71.18" stroke="#f2f2f2" stroke-width="0.6"/>
<line x1="432.40" y1="93.33" x2="537.50" y2="93.33" stroke="#f2f2f2" stroke-width="0.6"/>
<line x1="453.25" y1="10.40" x2="453.25" y2="111.60" stroke="#f2f2f2" stroke-width="0.6"/>
<line x1="488.58" y1="10.40" x2="488.58" y2="111.60" stroke="#f2f2f2" stroke-width="0.6"/>
<line x1="523.90" y1="10.40" x2="523.90" y2="111.60" stroke="#f2f2f2" stroke-width="0.6"/>
<line x1="432.40" y1="15.80" x2="537.50" y2="15.80" stroke="#e3e3e3" stroke-width="0.8"/>
<line x1="432.40" y1="37.95" x2="537.50" y2="37.95" stroke="#e3e3e3" stroke-width="0.8"/>
<line x1="432.40" y1="60.10" x2="537.50" y2="60.10" stroke="#e3e3e3" stroke-width="0.8"/>
<line x1="432.40" y1="82.25" x2="537.50" y2="82.25" stroke="#e3e3e3" stroke-width="0.8"/>
<line x1="432.40" y1="104.40" x2="537.50" y2="104.40" stroke="#e3e3e3" stroke-width="0.8"/>
<line x1="435.58" y1="10.40" x2="435.58" y2="111.60" stroke="#e3e3e3" stroke-width="0.8"/>
<line x1="470.91" y1="10.40" x2="470.91" y2="111.60" stroke="#e3e3e3" stroke-width="0.8"/>
<line x1="506.24" y1="10.40" x2="506.24" y2="111.60" stroke="#e3e3e3" stroke-width="0.8"/>
<polygon points="435.60,57.58 438.07,58.37 440.54,59.10 443.01,59.75 445.48,60.31 447.95,60.77 450.42,61.14 452.89,61.44 455.36,61.68 457.83,61.87 460.30,62.03 462.77,62.16 465.24,62.27 467.71,62.37 470.18,62.46 472.65,62.54 475.12,62.61 477.59,62.67 480.06,62.73 482.53,62.79 485.00,62.84 487.47,62.89 489.94,62.94 492.41,62.98 494.88,63.02 497.35,63.07 499.82,63.11 502.29,63.15 504.76,63.19 507.23,63.22 509.70,63.26 512.17,63.30 514.64,63.33 517.11,63.37 519.58,63.40 522.05,63.44 524.52,63.47 526.99,63.50 529.46,63.54 531.93,63.57 534.40,63.60 534.40,100.20 531.93,99.18 529.46,98.15 526.99,97.13 524.52,96.11 522.05,95.09 519.58,94.07 517.11,93.05 514.64,92.03 512.17,91.01 509.70,89.99 507.23,88.97 504.76,87.95 502.29,86.94 499.82,85.92 497.35,84.91 494.88,83.90 492.41,82.88 489.94,81.87 487.47,80.87 485.00,79.86 482.53,78.86 480.06,77.86 477.59,76.86 475.12,75.87 472.65,74.89 470.18,73.91 467.71,72.94 465.24,71.99 462.77,71.04 460.30,70.12 457.83,69.22 455.36,68.36 452.89,67.54 450.42,66.79 447.95,66.11 445.48,65.51 443.01,65.01 440.54,64.61 438.07,64.28 435.60,64.02" fill="#9db6d6" fill-opacity="0.55"/>
<g fill="#2a66ad" fill-opacity="0.7" stroke="#184c90" stroke-opacity="0.9" stroke-width="0.55"><circle cx="439.45" cy="13.18" r="1.55"/><circle cx="435.77" cy="16.75" r="1.55"/><circle cx="440.44" cy="22.41" r="1.55"/><circle cx="435.77" cy="25.39" r="1.55"/><circle cx="436.47" cy="28.37" r="1.55"/><circle cx="439.45" cy="31.35" r="1.55"/><circle cx="446.70" cy="32.05" r="1.55"/><circle cx="451.86" cy="30.36" r="1.55"/><circle cx="438.95" cy="36.02" r="1.55"/><circle cx="442.92" cy="36.32" r="1.55"/><circle cx="452.36" cy="38.30" r="1.55"/><circle cx="435.97" cy="38.80" r="1.55"/><circle cx="442.43" cy="41.58" r="1.55"/><circle cx="460.30" cy="42.27" r="1.55"/><circle cx="446.70" cy="43.57" r="1.55"/><circle cx="435.97" cy="42.77" r="1.55"/><circle cx="437.96" cy="45.25" r="1.55"/><circle cx="440.94" cy="44.76" r="1.55"/><circle cx="454.64" cy="46.54" r="1.55"/><circle cx="475.20" cy="46.74" r="1.55"/><circle cx="445.90" cy="47.54" r="1.55"/><circle cx="449.38" cy="49.23" r="1.55"/><circle cx="456.63" cy="50.71" r="1.55"/><circle cx="444.91" cy="52.20" r="1.55"/><circle cx="461.79" cy="55.68" r="1.55"/><circle cx="437.46" cy="56.67" r="1.55"/><circle cx="442.92" cy="59.65" r="1.55"/><circle cx="447.39" cy="61.14" r="1.55"/><circle cx="454.34" cy="61.14" r="1.55"/><circle cx="459.31" cy="61.14" r="1.55"/><circle cx="436.47" cy="61.14" r="1.55"/><circle cx="460.80" cy="63.48" r="1.55"/><circle cx="444.91" cy="66.45" r="1.55"/><circle cx="453.35" cy="67.45" r="1.55"/><circle cx="455.83" cy="69.93" r="1.55"/><circle cx="460.80" cy="69.93" r="1.55"/><circle cx="465.76" cy="70.13" r="1.55"/><circle cx="448.39" cy="69.43" r="1.55"/><circle cx="447.39" cy="72.41" r="1.55"/><circle cx="450.37" cy="72.91" r="1.55"/><circle cx="453.85" cy="73.90" r="1.55"/><circle cx="457.82" cy="81.85" r="1.55"/><circle cx="446.40" cy="77.38" r="1.55"/><circle cx="446.90" cy="79.86" r="1.55"/><circle cx="444.91" cy="85.32" r="1.55"/><circle cx="448.39" cy="87.31" r="1.55"/><circle cx="451.86" cy="88.30" r="1.55"/><circle cx="443.42" cy="89.79" r="1.55"/><circle cx="445.90" cy="90.78" r="1.55"/><circle cx="439.45" cy="92.27" r="1.55"/><circle cx="435.97" cy="92.27" r="1.55"/><circle cx="436.47" cy="95.25" r="1.55"/><circle cx="443.42" cy="96.25" r="1.55"/><circle cx="453.85" cy="94.76" r="1.55"/><circle cx="460.80" cy="94.26" r="1.55"/><circle cx="456.33" cy="100.22" r="1.55"/><circle cx="474.70" cy="89.59" r="1.55"/><circle cx="482.65" cy="92.97" r="1.55"/><circle cx="449.38" cy="106.18" r="1.55"/><circle cx="435.77" cy="108.86" r="1.55"/><circle cx="534.40" cy="48.10" r="1.55"/><circle cx="512.50" cy="70.80" r="1.55"/><circle cx="491.20" cy="76.90" r="1.55"/><circle cx="513.50" cy="81.20" r="1.55"/><circle cx="526.10" cy="81.90" r="1.55"/><circle cx="434.60" cy="40.69" r="1.55"/><circle cx="441.25" cy="40.91" r="1.55"/><circle cx="439.23" cy="52.55" r="1.55"/><circle cx="435.65" cy="57.41" r="1.55"/><circle cx="434.51" cy="42.99" r="1.55"/><circle cx="436.73" cy="40.54" r="1.55"/><circle cx="440.69" cy="45.22" r="1.55"/><circle cx="434.80" cy="41.03" r="1.55"/><circle cx="438.37" cy="49.82" r="1.55"/><circle cx="438.37" cy="54.41" r="1.55"/><circle cx="440.41" cy="61.09" r="1.55"/><circle cx="438.96" cy="44.39" r="1.55"/><circle cx="436.90" cy="43.93" r="1.55"/><circle cx="434.50" cy="50.39" r="1.55"/><circle cx="439.30" cy="43.94" r="1.55"/><circle cx="435.43" cy="47.61" r="1.55"/><circle cx="439.11" cy="51.45" r="1.55"/><circle cx="438.21" cy="56.64" r="1.55"/><circle cx="436.24" cy="57.42" r="1.55"/><circle cx="441.69" cy="41.92" r="1.55"/><circle cx="442.05" cy="55.89" r="1.55"/><circle cx="434.76" cy="49.98" r="1.55"/><circle cx="438.33" cy="60.02" r="1.55"/><circle cx="436.12" cy="52.51" r="1.55"/><circle cx="441.33" cy="57.53" r="1.55"/><circle cx="442.21" cy="50.20" r="1.55"/><circle cx="438.60" cy="44.51" r="1.55"/><circle cx="439.39" cy="58.00" r="1.55"/><circle cx="438.50" cy="55.79" r="1.55"/><circle cx="435.11" cy="59.80" r="1.55"/><circle cx="442.72" cy="61.50" r="1.55"/><circle cx="437.45" cy="57.40" r="1.55"/><circle cx="435.73" cy="60.02" r="1.55"/><circle cx="441.02" cy="47.67" r="1.55"/><circle cx="434.62" cy="49.70" r="1.55"/><circle cx="437.58" cy="56.90" r="1.55"/><circle cx="437.01" cy="40.63" r="1.55"/><circle cx="440.43" cy="41.41" r="1.55"/><circle cx="440.31" cy="43.80" r="1.55"/><circle cx="435.82" cy="57.33" r="1.55"/><circle cx="434.80" cy="43.27" r="1.55"/><circle cx="437.26" cy="55.92" r="1.55"/><circle cx="440.82" cy="55.17" r="1.55"/><circle cx="442.23" cy="50.84" r="1.55"/><circle cx="442.28" cy="41.89" r="1.55"/><circle cx="435.16" cy="51.59" r="1.55"/><circle cx="435.54" cy="56.03" r="1.55"/><circle cx="438.47" cy="51.50" r="1.55"/><circle cx="440.87" cy="52.32" r="1.55"/><circle cx="435.67" cy="48.39" r="1.55"/><circle cx="443.77" cy="83.41" r="1.55"/><circle cx="434.90" cy="82.12" r="1.55"/><circle cx="446.31" cy="73.63" r="1.55"/><circle cx="439.04" cy="65.23" r="1.55"/><circle cx="438.50" cy="73.08" r="1.55"/><circle cx="439.54" cy="60.72" r="1.55"/><circle cx="446.33" cy="73.42" r="1.55"/><circle cx="436.74" cy="80.83" r="1.55"/><circle cx="438.89" cy="72.77" r="1.55"/><circle cx="440.93" cy="61.71" r="1.55"/><circle cx="438.54" cy="70.76" r="1.55"/><circle cx="446.06" cy="84.01" r="1.55"/><circle cx="435.40" cy="72.30" r="1.55"/><circle cx="434.39" cy="71.28" r="1.55"/><circle cx="443.20" cy="83.41" r="1.55"/><circle cx="437.69" cy="68.25" r="1.55"/><circle cx="434.78" cy="76.07" r="1.55"/><circle cx="445.39" cy="63.37" r="1.55"/><circle cx="442.51" cy="60.59" r="1.55"/><circle cx="434.80" cy="65.91" r="1.55"/><circle cx="440.87" cy="68.37" r="1.55"/><circle cx="436.24" cy="76.11" r="1.55"/><circle cx="434.28" cy="79.00" r="1.55"/><circle cx="434.37" cy="73.27" r="1.55"/><circle cx="435.24" cy="65.14" r="1.55"/><circle cx="438.42" cy="71.36" r="1.55"/><circle cx="436.46" cy="70.75" r="1.55"/><circle cx="438.41" cy="64.15" r="1.55"/><circle cx="434.87" cy="76.41" r="1.55"/><circle cx="440.06" cy="73.77" r="1.55"/><circle cx="443.89" cy="75.90" r="1.55"/><circle cx="444.00" cy="66.05" r="1.55"/><circle cx="441.81" cy="81.07" r="1.55"/><circle cx="444.92" cy="68.21" r="1.55"/><circle cx="435.82" cy="83.99" r="1.55"/><circle cx="434.98" cy="85.96" r="1.55"/><circle cx="444.61" cy="63.48" r="1.55"/><circle cx="435.14" cy="78.89" r="1.55"/><circle cx="435.31" cy="62.52" r="1.55"/><circle cx="443.51" cy="70.96" r="1.55"/><circle cx="442.71" cy="63.28" r="1.55"/><circle cx="436.77" cy="77.82" r="1.55"/><circle cx="434.01" cy="65.22" r="1.55"/><circle cx="440.79" cy="83.70" r="1.55"/><circle cx="446.31" cy="63.00" r="1.55"/><circle cx="438.08" cy="79.71" r="1.55"/><circle cx="438.04" cy="77.83" r="1.55"/><circle cx="434.77" cy="61.83" r="1.55"/><circle cx="434.29" cy="60.97" r="1.55"/><circle cx="438.73" cy="73.39" r="1.55"/><circle cx="438.98" cy="63.81" r="1.55"/><circle cx="434.73" cy="65.30" r="1.55"/><circle cx="443.67" cy="85.75" r="1.55"/><circle cx="445.43" cy="62.48" r="1.55"/><circle cx="434.11" cy="84.74" r="1.55"/><circle cx="437.50" cy="79.88" r="1.55"/></g>
<line x1="435.60" y1="60.80" x2="534.40" y2="81.90" stroke="#2360a8" stroke-width="1.1"/>
<rect x="432.40" y="10.40" width="105.10" height="101.20" fill="none" stroke="#444" stroke-width="1.1"/>
<line x1="429.80" y1="15.80" x2="432.40" y2="15.80" stroke="#444" stroke-width="0.7"/>
<text x="427.80" y="18.00" font-size="5.8" text-anchor="end" fill="#1e1e1e" stroke="#1e1e1e" stroke-width="0.1">0.35</text>
<line x1="429.80" y1="37.95" x2="432.40" y2="37.95" stroke="#444" stroke-width="0.7"/>
<text x="427.80" y="40.15" font-size="5.8" text-anchor="end" fill="#1e1e1e" stroke="#1e1e1e" stroke-width="0.1">0.30</text>
<line x1="429.80" y1="60.10" x2="432.40" y2="60.10" stroke="#444" stroke-width="0.7"/>
<text x="427.80" y="62.30" font-size="5.8" text-anchor="end" fill="#1e1e1e" stroke="#1e1e1e" stroke-width="0.1">0.25</text>
<line x1="429.80" y1="82.25" x2="432.40" y2="82.25" stroke="#444" stroke-width="0.7"/>
<text x="427.80" y="84.45" font-size="5.8" text-anchor="end" fill="#1e1e1e" stroke="#1e1e1e" stroke-width="0.1">0.20</text>
<line x1="429.80" y1="104.40" x2="432.40" y2="104.40" stroke="#444" stroke-width="0.7"/>
<text x="427.80" y="106.60" font-size="5.8" text-anchor="end" fill="#1e1e1e" stroke="#1e1e1e" stroke-width="0.1">0.15</text>
<line x1="435.58" y1="111.60" x2="435.58" y2="114.20" stroke="#444" stroke-width="0.7"/>
<text x="435.58" y="120.80" font-size="5.8" text-anchor="middle" fill="#1e1e1e" stroke="#1e1e1e" stroke-width="0.1">0</text>
<line x1="470.91" y1="111.60" x2="470.91" y2="114.20" stroke="#444" stroke-width="0.7"/>
<text x="470.91" y="120.80" font-size="5.8" text-anchor="middle" fill="#1e1e1e" stroke="#1e1e1e" stroke-width="0.1">1</text>
<line x1="506.24" y1="111.60" x2="506.24" y2="114.20" stroke="#444" stroke-width="0.7"/>
<text x="506.24" y="120.80" font-size="5.8" text-anchor="middle" fill="#1e1e1e" stroke="#1e1e1e" stroke-width="0.1">2</text>
<text x="484.95" y="129.50" font-size="6.65" text-anchor="middle" fill="#222" stroke="#222" stroke-width="0.1">The expression of AMBN</text>
<text x="484.95" y="136.20" font-size="6.65" text-anchor="middle" fill="#222" >Log<tspan font-size="4.6" dy="1.6">2</tspan><tspan dy="-1.6"> (TPM+1)</tspan></text>
<text x="413.50" y="61.00" font-size="6.4" text-anchor="middle" fill="#222" stroke="#222" stroke-width="0.1" transform="rotate(-90 413.50 61.00)">Enrichment of Neutrophils</text>
<text x="534.40" y="92.50" font-size="5.8" text-anchor="end" fill="#2f66ad" stroke="#2f66ad" stroke-width="0.1">Spearman</text>
<text x="534.40" y="101.00" font-size="5.8" text-anchor="end" fill="#2f66ad" stroke="#2f66ad" stroke-width="0.1">r = -0.223</text>
<text x="534.40" y="109.10" font-size="5.8" text-anchor="end" fill="#2f66ad" stroke="#2f66ad" stroke-width="0.1">P = 0.006</text>
<line x1="297.90" y1="153.66" x2="404.10" y2="153.66" stroke="#f2f2f2" stroke-width="0.6"/>
<line x1="297.90" y1="170.59" x2="404.10" y2="170.59" stroke="#f2f2f2" stroke-width="0.6"/>
<line x1="297.90" y1="187.53" x2="404.10" y2="187.53" stroke="#f2f2f2" stroke-width="0.6"/>
<line x1="297.90" y1="204.46" x2="404.10" y2="204.46" stroke="#f2f2f2" stroke-width="0.6"/>
<line x1="297.90" y1="221.39" x2="404.10" y2="221.39" stroke="#f2f2f2" stroke-width="0.6"/>
<line x1="297.90" y1="238.32" x2="404.10" y2="238.32" stroke="#f2f2f2" stroke-width="0.6"/>
<line x1="318.97" y1="145.20" x2="318.97" y2="246.80" stroke="#f2f2f2" stroke-width="0.6"/>
<line x1="354.66" y1="145.20" x2="354.66" y2="246.80" stroke="#f2f2f2" stroke-width="0.6"/>
<line x1="390.36" y1="145.20" x2="390.36" y2="246.80" stroke="#f2f2f2" stroke-width="0.6"/>
<line x1="297.90" y1="162.13" x2="404.10" y2="162.13" stroke="#e3e3e3" stroke-width="0.8"/>
<line x1="297.90" y1="179.07" x2="404.10" y2="179.07" stroke="#e3e3e3" stroke-width="0.8"/>
<line x1="297.90" y1="196.00" x2="404.10" y2="196.00" stroke="#e3e3e3" stroke-width="0.8"/>
<line x1="297.90" y1="212.93" x2="404.10" y2="212.93" stroke="#e3e3e3" stroke-width="0.8"/>
<line x1="297.90" y1="229.87" x2="404.10" y2="229.87" stroke="#e3e3e3" stroke-width="0.8"/>
<line x1="301.12" y1="145.20" x2="301.12" y2="246.80" stroke="#e3e3e3" stroke-width="0.8"/>
<line x1="336.82" y1="145.20" x2="336.82" y2="246.80" stroke="#e3e3e3" stroke-width="0.8"/>
<line x1="372.51" y1="145.20" x2="372.51" y2="246.80" stroke="#e3e3e3" stroke-width="0.8"/>
<polygon points="302.00,188.12 304.44,188.58 306.87,188.99 309.31,189.32 311.74,189.58 314.18,189.77 316.61,189.88 319.05,189.95 321.48,189.96 323.92,189.94 326.35,189.90 328.78,189.83 331.22,189.74 333.65,189.64 336.09,189.53 338.52,189.41 340.96,189.29 343.39,189.16 345.83,189.02 348.26,188.88 350.70,188.74 353.13,188.59 355.57,188.45 358.00,188.30 360.44,188.15 362.88,187.99 365.31,187.84 367.75,187.68 370.18,187.53 372.62,187.37 375.05,187.21 377.49,187.05 379.92,186.89 382.36,186.73 384.79,186.57 387.22,186.41 389.66,186.25 392.09,186.09 394.53,185.93 396.96,185.76 399.40,185.60 399.40,218.60 396.96,217.89 394.53,217.17 392.09,216.46 389.66,215.75 387.22,215.04 384.79,214.33 382.36,213.62 379.92,212.91 377.49,212.20 375.05,211.49 372.62,210.78 370.18,210.07 367.75,209.37 365.31,208.66 362.88,207.96 360.44,207.25 358.00,206.55 355.57,205.85 353.13,205.16 350.70,204.46 348.26,203.77 345.83,203.08 343.39,202.39 340.96,201.71 338.52,201.04 336.09,200.37 333.65,199.71 331.22,199.06 328.78,198.42 326.35,197.80 323.92,197.21 321.48,196.64 319.05,196.10 316.61,195.62 314.18,195.18 311.74,194.82 309.31,194.53 306.87,194.31 304.44,194.17 302.00,194.08" fill="#9db6d6" fill-opacity="0.55"/>
<g fill="#2a66ad" fill-opacity="0.7" stroke="#184c90" stroke-opacity="0.9" stroke-width="0.55"><circle cx="303.75" cy="150.75" r="1.55"/><circle cx="304.75" cy="153.93" r="1.55"/><circle cx="301.47" cy="156.41" r="1.55"/><circle cx="306.43" cy="159.09" r="1.55"/><circle cx="311.90" cy="162.37" r="1.55"/><circle cx="300.97" cy="163.86" r="1.55"/><circle cx="305.44" cy="168.33" r="1.55"/><circle cx="317.36" cy="169.02" r="1.55"/><circle cx="325.30" cy="169.02" r="1.55"/><circle cx="309.41" cy="175.28" r="1.55"/><circle cx="314.87" cy="173.79" r="1.55"/><circle cx="317.85" cy="175.58" r="1.55"/><circle cx="310.90" cy="176.77" r="1.55"/><circle cx="325.80" cy="174.98" r="1.55"/><circle cx="324.31" cy="176.77" r="1.55"/><circle cx="308.42" cy="183.52" r="1.55"/><circle cx="311.40" cy="184.22" r="1.55"/><circle cx="326.79" cy="183.52" r="1.55"/><circle cx="331.26" cy="186.20" r="1.55"/><circle cx="340.50" cy="186.90" r="1.55"/><circle cx="312.39" cy="189.68" r="1.55"/><circle cx="321.33" cy="188.69" r="1.55"/><circle cx="322.82" cy="190.67" r="1.55"/><circle cx="319.34" cy="191.67" r="1.55"/><circle cx="318.35" cy="196.49" r="1.55"/><circle cx="319.84" cy="199.97" r="1.55"/><circle cx="319.34" cy="202.45" r="1.55"/><circle cx="315.37" cy="205.13" r="1.55"/><circle cx="321.63" cy="205.43" r="1.55"/><circle cx="321.83" cy="207.91" r="1.55"/><circle cx="306.93" cy="213.37" r="1.55"/><circle cx="312.39" cy="213.87" r="1.55"/><circle cx="301.47" cy="216.35" r="1.55"/><circle cx="311.40" cy="216.85" r="1.55"/><circle cx="319.34" cy="216.65" r="1.55"/><circle cx="305.94" cy="219.33" r="1.55"/><circle cx="300.97" cy="220.62" r="1.55"/><circle cx="302.46" cy="225.78" r="1.55"/><circle cx="308.92" cy="225.29" r="1.55"/><circle cx="311.40" cy="226.28" r="1.55"/><circle cx="307.92" cy="229.26" r="1.55"/><circle cx="313.39" cy="229.26" r="1.55"/><circle cx="314.38" cy="233.23" r="1.55"/><circle cx="317.36" cy="236.71" r="1.55"/><circle cx="326.00" cy="235.52" r="1.55"/><circle cx="308.72" cy="241.87" r="1.55"/><circle cx="347.84" cy="227.27" r="1.55"/><circle cx="356.00" cy="191.90" r="1.55"/><circle cx="377.70" cy="195.70" r="1.55"/><circle cx="391.70" cy="184.30" r="1.55"/><circle cx="399.40" cy="193.70" r="1.55"/><circle cx="300.62" cy="178.41" r="1.55"/><circle cx="301.93" cy="177.19" r="1.55"/><circle cx="302.66" cy="163.44" r="1.55"/><circle cx="303.60" cy="190.86" r="1.55"/><circle cx="299.91" cy="177.98" r="1.55"/><circle cx="303.99" cy="176.37" r="1.55"/><circle cx="299.97" cy="168.45" r="1.55"/><circle cx="301.91" cy="163.51" r="1.55"/><circle cx="305.69" cy="189.46" r="1.55"/><circle cx="303.64" cy="191.40" r="1.55"/><circle cx="302.91" cy="176.35" r="1.55"/><circle cx="302.64" cy="179.64" r="1.55"/><circle cx="306.78" cy="189.56" r="1.55"/><circle cx="300.25" cy="193.07" r="1.55"/><circle cx="304.04" cy="188.67" r="1.55"/><circle cx="304.79" cy="176.39" r="1.55"/><circle cx="305.73" cy="192.03" r="1.55"/><circle cx="303.54" cy="188.32" r="1.55"/><circle cx="304.26" cy="176.39" r="1.55"/><circle cx="303.82" cy="165.33" r="1.55"/><circle cx="300.71" cy="178.47" r="1.55"/><circle cx="299.50" cy="174.74" r="1.55"/><circle cx="303.00" cy="183.59" r="1.55"/><circle cx="300.13" cy="194.17" r="1.55"/><circle cx="303.26" cy="174.15" r="1.55"/><circle cx="303.20" cy="181.80" r="1.55"/><circle cx="302.07" cy="175.86" r="1.55"/><circle cx="307.00" cy="184.19" r="1.55"/><circle cx="303.60" cy="188.14" r="1.55"/><circle cx="306.75" cy="163.75" r="1.55"/><circle cx="302.79" cy="187.38" r="1.55"/><circle cx="300.24" cy="176.25" r="1.55"/><circle cx="299.55" cy="169.45" r="1.55"/><circle cx="300.92" cy="166.25" r="1.55"/><circle cx="300.21" cy="192.89" r="1.55"/><circle cx="302.21" cy="179.76" r="1.55"/><circle cx="306.59" cy="181.74" r="1.55"/><circle cx="306.94" cy="184.05" r="1.55"/><circle cx="304.74" cy="165.51" r="1.55"/><circle cx="302.63" cy="188.06" r="1.55"/><circle cx="299.54" cy="193.70" r="1.55"/><circle cx="299.83" cy="178.57" r="1.55"/><circle cx="299.87" cy="179.35" r="1.55"/><circle cx="302.75" cy="164.93" r="1.55"/><circle cx="306.32" cy="176.88" r="1.55"/><circle cx="302.02" cy="182.73" r="1.55"/><circle cx="300.86" cy="172.43" r="1.55"/><circle cx="303.15" cy="181.50" r="1.55"/><circle cx="300.38" cy="186.65" r="1.55"/><circle cx="300.45" cy="163.46" r="1.55"/><circle cx="300.19" cy="164.41" r="1.55"/><circle cx="299.82" cy="187.90" r="1.55"/><circle cx="301.01" cy="192.62" r="1.55"/><circle cx="304.08" cy="164.66" r="1.55"/><circle cx="306.86" cy="194.17" r="1.55"/><circle cx="299.59" cy="192.88" r="1.55"/><circle cx="301.28" cy="178.76" r="1.55"/><circle cx="306.66" cy="171.04" r="1.55"/><circle cx="301.99" cy="193.93" r="1.55"/><circle cx="303.82" cy="178.46" r="1.55"/><circle cx="306.73" cy="189.95" r="1.55"/><circle cx="302.68" cy="166.80" r="1.55"/><circle cx="304.66" cy="202.75" r="1.55"/><circle cx="300.27" cy="195.88" r="1.55"/><circle cx="303.38" cy="197.11" r="1.55"/><circle cx="302.38" cy="206.35" r="1.55"/><circle cx="302.52" cy="199.46" r="1.55"/><circle cx="304.09" cy="202.13" r="1.55"/><circle cx="307.00" cy="204.02" r="1.55"/><circle cx="310.95" cy="211.19" r="1.55"/><circle cx="306.30" cy="199.05" r="1.55"/><circle cx="299.79" cy="210.18" r="1.55"/><circle cx="307.11" cy="205.62" r="1.55"/><circle cx="301.52" cy="199.62" r="1.55"/><circle cx="305.55" cy="204.60" r="1.55"/><circle cx="304.21" cy="205.76" r="1.55"/><circle cx="306.61" cy="198.23" r="1.55"/><circle cx="300.58" cy="211.66" r="1.55"/><circle cx="309.40" cy="209.94" r="1.55"/><circle cx="299.55" cy="196.03" r="1.55"/><circle cx="300.75" cy="202.23" r="1.55"/><circle cx="304.65" cy="196.74" r="1.55"/><circle cx="303.56" cy="196.23" r="1.55"/><circle cx="299.68" cy="206.50" r="1.55"/><circle cx="303.67" cy="205.73" r="1.55"/><circle cx="301.65" cy="203.14" r="1.55"/><circle cx="300.31" cy="200.84" r="1.55"/><circle cx="306.47" cy="209.26" r="1.55"/><circle cx="299.64" cy="197.04" r="1.55"/><circle cx="307.52" cy="205.60" r="1.55"/><circle cx="306.85" cy="198.62" r="1.55"/><circle cx="302.18" cy="199.39" r="1.55"/><circle cx="307.54" cy="201.27" r="1.55"/><circle cx="305.08" cy="211.82" r="1.55"/><circle cx="301.21" cy="204.33" r="1.55"/><circle cx="306.49" cy="210.65" r="1.55"/><circle cx="302.21" cy="201.28" r="1.55"/><circle cx="299.72" cy="209.88" r="1.55"/><circle cx="299.65" cy="196.41" r="1.55"/><circle cx="303.85" cy="203.24" r="1.55"/><circle cx="305.55" cy="200.08" r="1.55"/><circle cx="306.96" cy="196.29" r="1.55"/><circle cx="300.33" cy="206.26" r="1.55"/><circle cx="299.66" cy="200.16" r="1.55"/><circle cx="306.16" cy="206.80" r="1.55"/><circle cx="300.84" cy="197.43" r="1.55"/><circle cx="301.50" cy="207.34" r="1.55"/><circle cx="301.59" cy="197.00" r="1.55"/><circle cx="305.91" cy="204.68" r="1.55"/></g>
<line x1="302.00" y1="191.10" x2="399.40" y2="202.10" stroke="#2360a8" stroke-width="1.1"/>
<rect x="297.90" y="145.20" width="106.20" height="101.60" fill="none" stroke="#444" stroke-width="1.1"/>
<line x1="295.30" y1="145.20" x2="297.90" y2="145.20" stroke="#444" stroke-width="0.7"/>
<text x="293.30" y="147.40" font-size="5.8" text-anchor="end" fill="#1e1e1e" stroke="#1e1e1e" stroke-width="0.1">0.55</text>
<line x1="295.30" y1="162.13" x2="297.90" y2="162.13" stroke="#444" stroke-width="0.7"/>
<text x="293.30" y="164.33" font-size="5.8" text-anchor="end" fill="#1e1e1e" stroke="#1e1e1e" stroke-width="0.1">0.50</text>
<line x1="295.30" y1="179.07" x2="297.90" y2="179.07" stroke="#444" stroke-width="0.7"/>
<text x="293.30" y="181.27" font-size="5.8" text-anchor="end" fill="#1e1e1e" stroke="#1e1e1e" stroke-width="0.1">0.45</text>
<line x1="295.30" y1="196.00" x2="297.90" y2="196.00" stroke="#444" stroke-width="0.7"/>
<text x="293.30" y="198.20" font-size="5.8" text-anchor="end" fill="#1e1e1e" stroke="#1e1e1e" stroke-width="0.1">0.40</text>
<line x1="295.30" y1="212.93" x2="297.90" y2="212.93" stroke="#444" stroke-width="0.7"/>
<text x="293.30" y="215.13" font-size="5.8" text-anchor="end" fill="#1e1e1e" stroke="#1e1e1e" stroke-width="0.1">0.35</text>
<line x1="295.30" y1="229.87" x2="297.90" y2="229.87" stroke="#444" stroke-width="0.7"/>
<text x="293.30" y="232.07" font-size="5.8" text-anchor="end" fill="#1e1e1e" stroke="#1e1e1e" stroke-width="0.1">0.30</text>
<line x1="295.30" y1="246.80" x2="297.90" y2="246.80" stroke="#444" stroke-width="0.7"/>
<text x="293.30" y="249.00" font-size="5.8" text-anchor="end" fill="#1e1e1e" stroke="#1e1e1e" stroke-width="0.1">0.25</text>
<line x1="301.12" y1="246.80" x2="301.12" y2="249.40" stroke="#444" stroke-width="0.7"/>
<text x="301.12" y="256.00" font-size="5.8" text-anchor="middle" fill="#1e1e1e" stroke="#1e1e1e" stroke-width="0.1">0</text>
<line x1="336.82" y1="246.80" x2="336.82" y2="249.40" stroke="#444" stroke-width="0.7"/>
<text x="336.82" y="256.00" font-size="5.8" text-anchor="middle" fill="#1e1e1e" stroke="#1e1e1e" stroke-width="0.1">1</text>
<line x1="372.51" y1="246.80" x2="372.51" y2="249.40" stroke="#444" stroke-width="0.7"/>
<text x="372.51" y="256.00" font-size="5.8" text-anchor="middle" fill="#1e1e1e" stroke="#1e1e1e" stroke-width="0.1">2</text>
<text x="351.00" y="264.70" font-size="6.65" text-anchor="middle" fill="#222" stroke="#222" stroke-width="0.1">The expression of AMBN</text>
<text x="351.00" y="271.40" font-size="6.65" text-anchor="middle" fill="#222" >Log<tspan font-size="4.6" dy="1.6">2</tspan><tspan dy="-1.6"> (TPM+1)</tspan></text>
<text x="278.80" y="196.00" font-size="6.4" text-anchor="middle" fill="#222" stroke="#222" stroke-width="0.1" transform="rotate(-90 278.80 196.00)">Enrichment of iDC</text>
<text x="399.60" y="226.00" font-size="5.8" text-anchor="end" fill="#2f66ad" stroke="#2f66ad" stroke-width="0.1">Spearman</text>
<text x="399.60" y="234.30" font-size="5.8" text-anchor="end" fill="#2f66ad" stroke="#2f66ad" stroke-width="0.1">r = -0.205</text>
<text x="399.60" y="242.40" font-size="5.8" text-anchor="end" fill="#2f66ad" stroke="#2f66ad" stroke-width="0.1">P = 0.012</text>
<line x1="432.40" y1="170.34" x2="540.00" y2="170.34" stroke="#f2f2f2" stroke-width="0.6"/>
<line x1="432.40" y1="196.00" x2="540.00" y2="196.00" stroke="#f2f2f2" stroke-width="0.6"/>
<line x1="432.40" y1="221.67" x2="540.00" y2="221.67" stroke="#f2f2f2" stroke-width="0.6"/>
<line x1="453.74" y1="145.20" x2="453.74" y2="246.80" stroke="#f2f2f2" stroke-width="0.6"/>
<line x1="489.91" y1="145.20" x2="489.91" y2="246.80" stroke="#f2f2f2" stroke-width="0.6"/>
<line x1="526.08" y1="145.20" x2="526.08" y2="246.80" stroke="#f2f2f2" stroke-width="0.6"/>
<line x1="432.40" y1="157.50" x2="540.00" y2="157.50" stroke="#e3e3e3" stroke-width="0.8"/>
<line x1="432.40" y1="183.17" x2="540.00" y2="183.17" stroke="#e3e3e3" stroke-width="0.8"/>
<line x1="432.40" y1="208.83" x2="540.00" y2="208.83" stroke="#e3e3e3" stroke-width="0.8"/>
<line x1="432.40" y1="234.50" x2="540.00" y2="234.50" stroke="#e3e3e3" stroke-width="0.8"/>
<line x1="435.66" y1="145.20" x2="435.66" y2="246.80" stroke="#e3e3e3" stroke-width="0.8"/>
<line x1="471.83" y1="145.20" x2="471.83" y2="246.80" stroke="#e3e3e3" stroke-width="0.8"/>
<line x1="508.00" y1="145.20" x2="508.00" y2="246.80" stroke="#e3e3e3" stroke-width="0.8"/>
<polygon points="435.50,190.63 438.03,191.11 440.56,191.54 443.08,191.90 445.61,192.19 448.14,192.41 450.67,192.56 453.19,192.65 455.72,192.70 458.25,192.70 460.77,192.68 463.30,192.63 465.83,192.56 468.36,192.47 470.88,192.38 473.41,192.27 475.94,192.16 478.47,192.04 481.00,191.92 483.52,191.79 486.05,191.66 488.58,191.52 491.11,191.38 493.63,191.24 496.16,191.10 498.69,190.96 501.22,190.81 503.74,190.67 506.27,190.52 508.80,190.37 511.33,190.22 513.85,190.07 516.38,189.92 518.91,189.77 521.44,189.62 523.96,189.47 526.49,189.32 529.02,189.16 531.55,189.01 534.07,188.85 536.60,188.70 536.60,220.50 534.07,219.80 531.55,219.10 529.02,218.40 526.49,217.70 523.96,217.01 521.44,216.31 518.91,215.61 516.38,214.92 513.85,214.22 511.33,213.53 508.80,212.83 506.27,212.14 503.74,211.45 501.22,210.76 498.69,210.07 496.16,209.38 493.63,208.69 491.11,208.01 488.58,207.32 486.05,206.64 483.52,205.97 481.00,205.29 478.47,204.63 475.94,203.96 473.41,203.30 470.88,202.65 468.36,202.01 465.83,201.38 463.30,200.77 460.77,200.17 458.25,199.60 455.72,199.06 453.19,198.56 450.67,198.11 448.14,197.72 445.61,197.39 443.08,197.14 440.56,196.95 438.03,196.83 435.50,196.77" fill="#9db6d6" fill-opacity="0.55"/>
<g fill="#2a66ad" fill-opacity="0.7" stroke="#184c90" stroke-opacity="0.9" stroke-width="0.55"><circle cx="439.15" cy="148.17" r="1.55"/><circle cx="435.48" cy="153.43" r="1.55"/><circle cx="435.48" cy="161.08" r="1.55"/><circle cx="441.14" cy="162.67" r="1.55"/><circle cx="438.45" cy="164.85" r="1.55"/><circle cx="439.94" cy="166.05" r="1.55"/><circle cx="435.48" cy="167.63" r="1.55"/><circle cx="443.12" cy="171.31" r="1.55"/><circle cx="460.50" cy="170.32" r="1.55"/><circle cx="452.36" cy="173.29" r="1.55"/><circle cx="459.31" cy="178.96" r="1.55"/><circle cx="446.90" cy="181.24" r="1.55"/><circle cx="462.29" cy="182.93" r="1.55"/><circle cx="460.80" cy="186.50" r="1.55"/><circle cx="445.90" cy="183.72" r="1.55"/><circle cx="449.38" cy="188.19" r="1.55"/><circle cx="455.83" cy="187.69" r="1.55"/><circle cx="454.34" cy="190.67" r="1.55"/><circle cx="458.32" cy="193.16" r="1.55"/><circle cx="475.69" cy="183.52" r="1.55"/><circle cx="475.69" cy="189.68" r="1.55"/><circle cx="446.40" cy="198.48" r="1.55"/><circle cx="466.26" cy="200.46" r="1.55"/><circle cx="448.39" cy="204.14" r="1.55"/><circle cx="454.34" cy="206.72" r="1.55"/><circle cx="453.35" cy="208.41" r="1.55"/><circle cx="454.84" cy="210.39" r="1.55"/><circle cx="446.90" cy="210.89" r="1.55"/><circle cx="445.90" cy="212.38" r="1.55"/><circle cx="456.63" cy="214.07" r="1.55"/><circle cx="441.93" cy="214.36" r="1.55"/><circle cx="437.96" cy="217.64" r="1.55"/><circle cx="446.40" cy="218.04" r="1.55"/><circle cx="435.48" cy="221.02" r="1.55"/><circle cx="439.45" cy="223.60" r="1.55"/><circle cx="450.37" cy="222.61" r="1.55"/><circle cx="441.43" cy="227.27" r="1.55"/><circle cx="443.92" cy="226.28" r="1.55"/><circle cx="446.40" cy="224.99" r="1.55"/><circle cx="452.36" cy="235.91" r="1.55"/><circle cx="449.38" cy="237.90" r="1.55"/><circle cx="436.97" cy="239.49" r="1.55"/><circle cx="448.39" cy="242.67" r="1.55"/><circle cx="443.42" cy="243.86" r="1.55"/><circle cx="461.29" cy="240.18" r="1.55"/><circle cx="483.44" cy="221.32" r="1.55"/><circle cx="492.00" cy="188.00" r="1.55"/><circle cx="514.50" cy="189.30" r="1.55"/><circle cx="529.00" cy="190.40" r="1.55"/><circle cx="536.60" cy="198.30" r="1.55"/><circle cx="515.00" cy="206.40" r="1.55"/><circle cx="445.25" cy="194.32" r="1.55"/><circle cx="445.14" cy="180.26" r="1.55"/><circle cx="442.95" cy="176.53" r="1.55"/><circle cx="435.85" cy="179.19" r="1.55"/><circle cx="445.59" cy="193.05" r="1.55"/><circle cx="435.22" cy="178.13" r="1.55"/><circle cx="436.35" cy="178.17" r="1.55"/><circle cx="436.69" cy="178.85" r="1.55"/><circle cx="434.81" cy="183.79" r="1.55"/><circle cx="442.84" cy="183.14" r="1.55"/><circle cx="443.59" cy="183.76" r="1.55"/><circle cx="434.68" cy="189.25" r="1.55"/><circle cx="444.48" cy="175.88" r="1.55"/><circle cx="434.02" cy="182.44" r="1.55"/><circle cx="438.62" cy="183.89" r="1.55"/><circle cx="446.27" cy="186.23" r="1.55"/><circle cx="442.98" cy="169.79" r="1.55"/><circle cx="438.66" cy="190.07" r="1.55"/><circle cx="434.19" cy="170.29" r="1.55"/><circle cx="441.74" cy="193.17" r="1.55"/><circle cx="434.20" cy="185.76" r="1.55"/><circle cx="434.48" cy="188.88" r="1.55"/><circle cx="440.23" cy="174.87" r="1.55"/><circle cx="434.99" cy="189.43" r="1.55"/><circle cx="438.30" cy="189.41" r="1.55"/><circle cx="436.67" cy="177.46" r="1.55"/><circle cx="446.31" cy="186.83" r="1.55"/><circle cx="437.92" cy="183.05" r="1.55"/><circle cx="441.45" cy="187.83" r="1.55"/><circle cx="445.18" cy="179.50" r="1.55"/><circle cx="443.40" cy="186.67" r="1.55"/><circle cx="443.93" cy="190.57" r="1.55"/><circle cx="443.54" cy="192.88" r="1.55"/><circle cx="446.08" cy="185.93" r="1.55"/><circle cx="438.33" cy="187.88" r="1.55"/><circle cx="442.94" cy="179.81" r="1.55"/><circle cx="436.98" cy="172.09" r="1.55"/><circle cx="441.81" cy="195.75" r="1.55"/><circle cx="436.46" cy="172.69" r="1.55"/><circle cx="434.87" cy="179.90" r="1.55"/><circle cx="435.60" cy="195.15" r="1.55"/><circle cx="434.11" cy="176.64" r="1.55"/><circle cx="434.33" cy="186.14" r="1.55"/><circle cx="442.45" cy="173.02" r="1.55"/><circle cx="434.12" cy="180.85" r="1.55"/><circle cx="439.21" cy="193.46" r="1.55"/><circle cx="434.05" cy="171.04" r="1.55"/><circle cx="434.74" cy="174.09" r="1.55"/><circle cx="435.11" cy="188.08" r="1.55"/><circle cx="439.37" cy="174.27" r="1.55"/><circle cx="434.74" cy="175.87" r="1.55"/><circle cx="434.66" cy="189.21" r="1.55"/><circle cx="435.79" cy="183.35" r="1.55"/><circle cx="443.22" cy="181.43" r="1.55"/><circle cx="435.32" cy="192.85" r="1.55"/><circle cx="445.16" cy="177.58" r="1.55"/><circle cx="438.67" cy="194.80" r="1.55"/><circle cx="437.77" cy="174.19" r="1.55"/><circle cx="434.08" cy="194.53" r="1.55"/><circle cx="442.92" cy="178.78" r="1.55"/><circle cx="438.38" cy="182.44" r="1.55"/><circle cx="435.44" cy="195.73" r="1.55"/><circle cx="439.88" cy="199.75" r="1.55"/><circle cx="434.01" cy="204.45" r="1.55"/><circle cx="436.23" cy="210.94" r="1.55"/><circle cx="440.76" cy="207.12" r="1.55"/><circle cx="434.52" cy="198.14" r="1.55"/><circle cx="435.75" cy="200.19" r="1.55"/><circle cx="443.46" cy="205.32" r="1.55"/><circle cx="439.57" cy="214.86" r="1.55"/><circle cx="435.27" cy="205.69" r="1.55"/><circle cx="434.48" cy="210.41" r="1.55"/><circle cx="434.00" cy="211.43" r="1.55"/><circle cx="443.03" cy="211.44" r="1.55"/><circle cx="434.17" cy="200.40" r="1.55"/><circle cx="440.81" cy="196.94" r="1.55"/><circle cx="437.45" cy="204.37" r="1.55"/><circle cx="445.11" cy="206.73" r="1.55"/><circle cx="443.24" cy="201.07" r="1.55"/><circle cx="442.03" cy="203.34" r="1.55"/><circle cx="444.35" cy="196.82" r="1.55"/><circle cx="442.68" cy="199.17" r="1.55"/><circle cx="438.25" cy="205.51" r="1.55"/><circle cx="434.52" cy="211.64" r="1.55"/><circle cx="435.65" cy="201.21" r="1.55"/><circle cx="434.15" cy="201.11" r="1.55"/><circle cx="437.29" cy="209.30" r="1.55"/><circle cx="436.11" cy="208.74" r="1.55"/><circle cx="434.26" cy="202.88" r="1.55"/><circle cx="437.23" cy="214.34" r="1.55"/><circle cx="442.74" cy="208.08" r="1.55"/><circle cx="434.01" cy="202.54" r="1.55"/><circle cx="440.70" cy="199.75" r="1.55"/><circle cx="438.53" cy="204.16" r="1.55"/><circle cx="434.01" cy="214.83" r="1.55"/><circle cx="442.20" cy="199.13" r="1.55"/><circle cx="439.27" cy="200.81" r="1.55"/><circle cx="436.27" cy="205.80" r="1.55"/><circle cx="435.53" cy="201.75" r="1.55"/><circle cx="436.44" cy="208.33" r="1.55"/><circle cx="435.19" cy="199.00" r="1.55"/><circle cx="441.05" cy="201.59" r="1.55"/><circle cx="444.90" cy="206.26" r="1.55"/><circle cx="440.93" cy="201.63" r="1.55"/><circle cx="442.69" cy="196.85" r="1.55"/><circle cx="434.43" cy="196.89" r="1.55"/><circle cx="440.19" cy="209.17" r="1.55"/><circle cx="434.65" cy="203.05" r="1.55"/><circle cx="442.87" cy="206.85" r="1.55"/><circle cx="434.20" cy="199.53" r="1.55"/><circle cx="434.52" cy="197.48" r="1.55"/><circle cx="436.60" cy="196.45" r="1.55"/></g>
<line x1="435.50" y1="193.70" x2="536.60" y2="204.60" stroke="#2360a8" stroke-width="1.1"/>
<rect x="432.40" y="145.20" width="107.60" height="101.60" fill="none" stroke="#444" stroke-width="1.1"/>
<line x1="429.80" y1="157.50" x2="432.40" y2="157.50" stroke="#444" stroke-width="0.7"/>
<text x="427.80" y="159.70" font-size="5.8" text-anchor="end" fill="#1e1e1e" stroke="#1e1e1e" stroke-width="0.1">0.6</text>
<line x1="429.80" y1="183.17" x2="432.40" y2="183.17" stroke="#444" stroke-width="0.7"/>
<text x="427.80" y="185.37" font-size="5.8" text-anchor="end" fill="#1e1e1e" stroke="#1e1e1e" stroke-width="0.1">0.5</text>
<line x1="429.80" y1="208.83" x2="432.40" y2="208.83" stroke="#444" stroke-width="0.7"/>
<text x="427.80" y="211.03" font-size="5.8" text-anchor="end" fill="#1e1e1e" stroke="#1e1e1e" stroke-width="0.1">0.4</text>
<line x1="429.80" y1="234.50" x2="432.40" y2="234.50" stroke="#444" stroke-width="0.7"/>
<text x="427.80" y="236.70" font-size="5.8" text-anchor="end" fill="#1e1e1e" stroke="#1e1e1e" stroke-width="0.1">0.3</text>
<line x1="435.66" y1="246.80" x2="435.66" y2="249.40" stroke="#444" stroke-width="0.7"/>
<text x="435.66" y="256.00" font-size="5.8" text-anchor="middle" fill="#1e1e1e" stroke="#1e1e1e" stroke-width="0.1">0</text>
<line x1="471.83" y1="246.80" x2="471.83" y2="249.40" stroke="#444" stroke-width="0.7"/>
<text x="471.83" y="256.00" font-size="5.8" text-anchor="middle" fill="#1e1e1e" stroke="#1e1e1e" stroke-width="0.1">1</text>
<line x1="508.00" y1="246.80" x2="508.00" y2="249.40" stroke="#444" stroke-width="0.7"/>
<text x="508.00" y="256.00" font-size="5.8" text-anchor="middle" fill="#1e1e1e" stroke="#1e1e1e" stroke-width="0.1">2</text>
<text x="486.20" y="264.70" font-size="6.65" text-anchor="middle" fill="#222" stroke="#222" stroke-width="0.1">The expression of AMBN</text>
<text x="486.20" y="271.40" font-size="6.65" text-anchor="middle" fill="#222" >Log<tspan font-size="4.6" dy="1.6">2</tspan><tspan dy="-1.6"> (TPM+1)</tspan></text>
<text x="413.50" y="196.00" font-size="6.4" text-anchor="middle" fill="#222" stroke="#222" stroke-width="0.1" transform="rotate(-90 413.50 196.00)">Enrichment of Macrophages</text>
<text x="536.60" y="227.60" font-size="5.8" text-anchor="end" fill="#2f66ad" stroke="#2f66ad" stroke-width="0.1">Spearman</text>
<text x="536.60" y="236.00" font-size="5.8" text-anchor="end" fill="#2f66ad" stroke="#2f66ad" stroke-width="0.1">r = -0.195</text>
<text x="536.60" y="243.70" font-size="5.8" text-anchor="end" fill="#2f66ad" stroke="#2f66ad" stroke-width="0.1">P = 0.017</text>
<line x1="298.20" y1="288.74" x2="404.10" y2="288.74" stroke="#f2f2f2" stroke-width="0.6"/>
<line x1="298.20" y1="305.62" x2="404.10" y2="305.62" stroke="#f2f2f2" stroke-width="0.6"/>
<line x1="298.20" y1="322.50" x2="404.10" y2="322.50" stroke="#f2f2f2" stroke-width="0.6"/>
<line x1="298.20" y1="339.38" x2="404.10" y2="339.38" stroke="#f2f2f2" stroke-width="0.6"/>
<line x1="298.20" y1="356.26" x2="404.10" y2="356.26" stroke="#f2f2f2" stroke-width="0.6"/>
<line x1="298.20" y1="373.14" x2="404.10" y2="373.14" stroke="#f2f2f2" stroke-width="0.6"/>
<line x1="319.21" y1="280.30" x2="319.21" y2="381.60" stroke="#f2f2f2" stroke-width="0.6"/>
<line x1="354.80" y1="280.30" x2="354.80" y2="381.60" stroke="#f2f2f2" stroke-width="0.6"/>
<line x1="390.40" y1="280.30" x2="390.40" y2="381.60" stroke="#f2f2f2" stroke-width="0.6"/>
<line x1="298.20" y1="297.18" x2="404.10" y2="297.18" stroke="#e3e3e3" stroke-width="0.8"/>
<line x1="298.20" y1="314.07" x2="404.10" y2="314.07" stroke="#e3e3e3" stroke-width="0.8"/>
<line x1="298.20" y1="330.95" x2="404.10" y2="330.95" stroke="#e3e3e3" stroke-width="0.8"/>
<line x1="298.20" y1="347.83" x2="404.10" y2="347.83" stroke="#e3e3e3" stroke-width="0.8"/>
<line x1="298.20" y1="364.72" x2="404.10" y2="364.72" stroke="#e3e3e3" stroke-width="0.8"/>
<line x1="301.41" y1="280.30" x2="301.41" y2="381.60" stroke="#e3e3e3" stroke-width="0.8"/>
<line x1="337.01" y1="280.30" x2="337.01" y2="381.60" stroke="#e3e3e3" stroke-width="0.8"/>
<line x1="372.60" y1="280.30" x2="372.60" y2="381.60" stroke="#e3e3e3" stroke-width="0.8"/>
<polygon points="302.00,335.71 304.46,336.26 306.93,336.77 309.39,337.22 311.86,337.61 314.32,337.95 316.79,338.23 319.25,338.47 321.72,338.67 324.19,338.84 326.65,338.98 329.12,339.11 331.58,339.22 334.05,339.32 336.51,339.41 338.98,339.49 341.44,339.57 343.91,339.64 346.37,339.70 348.84,339.76 351.30,339.82 353.76,339.88 356.23,339.93 358.69,339.98 361.16,340.03 363.62,340.08 366.09,340.13 368.56,340.17 371.02,340.22 373.49,340.26 375.95,340.30 378.42,340.34 380.88,340.39 383.35,340.43 385.81,340.47 388.28,340.51 390.74,340.55 393.21,340.59 395.67,340.62 398.13,340.66 400.60,340.70 400.60,368.70 398.13,367.92 395.67,367.15 393.21,366.37 390.74,365.59 388.28,364.82 385.81,364.04 383.35,363.27 380.88,362.49 378.42,361.72 375.95,360.95 373.49,360.18 371.02,359.40 368.56,358.63 366.09,357.86 363.62,357.10 361.16,356.33 358.69,355.56 356.23,354.80 353.76,354.04 351.30,353.28 348.84,352.52 346.37,351.77 343.91,351.02 341.44,350.27 338.98,349.53 336.51,348.80 334.05,348.07 331.58,347.36 329.12,346.65 326.65,345.97 324.19,345.30 321.72,344.65 319.25,344.04 316.79,343.46 314.32,342.93 311.86,342.45 309.39,342.02 306.93,341.66 304.46,341.35 302.00,341.09" fill="#9db6d6" fill-opacity="0.55"/>
<g fill="#2a66ad" fill-opacity="0.7" stroke="#184c90" stroke-opacity="0.9" stroke-width="0.55"><circle cx="301.17" cy="286.44" r="1.55"/><circle cx="306.43" cy="285.15" r="1.55"/><circle cx="304.94" cy="288.13" r="1.55"/><circle cx="301.17" cy="296.07" r="1.55"/><circle cx="311.40" cy="297.36" r="1.55"/><circle cx="301.47" cy="300.34" r="1.55"/><circle cx="304.45" cy="301.63" r="1.55"/><circle cx="303.45" cy="308.29" r="1.55"/><circle cx="320.34" cy="309.58" r="1.55"/><circle cx="323.81" cy="312.56" r="1.55"/><circle cx="315.87" cy="312.96" r="1.55"/><circle cx="307.92" cy="313.95" r="1.55"/><circle cx="301.17" cy="314.94" r="1.55"/><circle cx="312.39" cy="315.54" r="1.55"/><circle cx="318.65" cy="316.23" r="1.55"/><circle cx="302.96" cy="319.21" r="1.55"/><circle cx="305.94" cy="318.22" r="1.55"/><circle cx="308.92" cy="322.69" r="1.55"/><circle cx="313.88" cy="321.69" r="1.55"/><circle cx="317.85" cy="321.20" r="1.55"/><circle cx="319.84" cy="322.49" r="1.55"/><circle cx="318.35" cy="324.47" r="1.55"/><circle cx="326.29" cy="323.18" r="1.55"/><circle cx="310.41" cy="326.66" r="1.55"/><circle cx="312.39" cy="329.64" r="1.55"/><circle cx="301.97" cy="323.68" r="1.55"/><circle cx="302.96" cy="326.66" r="1.55"/><circle cx="300.97" cy="332.48" r="1.55"/><circle cx="325.00" cy="333.47" r="1.55"/><circle cx="348.44" cy="332.77" r="1.55"/><circle cx="326.29" cy="337.74" r="1.55"/><circle cx="319.64" cy="338.93" r="1.55"/><circle cx="326.79" cy="342.41" r="1.55"/><circle cx="317.36" cy="349.36" r="1.55"/><circle cx="322.32" cy="349.85" r="1.55"/><circle cx="331.26" cy="350.05" r="1.55"/><circle cx="321.33" cy="353.33" r="1.55"/><circle cx="326.29" cy="354.32" r="1.55"/><circle cx="319.84" cy="356.81" r="1.55"/><circle cx="323.81" cy="358.59" r="1.55"/><circle cx="311.90" cy="351.84" r="1.55"/><circle cx="314.38" cy="354.82" r="1.55"/><circle cx="312.39" cy="358.79" r="1.55"/><circle cx="307.92" cy="360.78" r="1.55"/><circle cx="304.45" cy="362.27" r="1.55"/><circle cx="300.97" cy="360.78" r="1.55"/><circle cx="322.32" cy="364.25" r="1.55"/><circle cx="341.19" cy="354.62" r="1.55"/><circle cx="341.19" cy="356.61" r="1.55"/><circle cx="300.97" cy="372.20" r="1.55"/><circle cx="302.96" cy="375.18" r="1.55"/><circle cx="357.30" cy="354.10" r="1.55"/><circle cx="379.00" cy="347.80" r="1.55"/><circle cx="393.00" cy="349.00" r="1.55"/><circle cx="381.50" cy="363.00" r="1.55"/><circle cx="399.40" cy="362.30" r="1.55"/><circle cx="306.95" cy="316.82" r="1.55"/><circle cx="302.56" cy="321.89" r="1.55"/><circle cx="305.09" cy="325.89" r="1.55"/><circle cx="301.59" cy="314.62" r="1.55"/><circle cx="301.77" cy="307.35" r="1.55"/><circle cx="301.69" cy="323.10" r="1.55"/><circle cx="307.76" cy="325.16" r="1.55"/><circle cx="303.95" cy="321.00" r="1.55"/><circle cx="300.01" cy="314.61" r="1.55"/><circle cx="301.29" cy="321.97" r="1.55"/><circle cx="300.18" cy="315.69" r="1.55"/><circle cx="302.54" cy="325.14" r="1.55"/><circle cx="305.77" cy="321.06" r="1.55"/><circle cx="300.35" cy="324.63" r="1.55"/><circle cx="306.73" cy="319.61" r="1.55"/><circle cx="301.36" cy="318.51" r="1.55"/><circle cx="300.29" cy="323.41" r="1.55"/><circle cx="313.68" cy="346.45" r="1.55"/><circle cx="307.71" cy="355.39" r="1.55"/><circle cx="300.42" cy="358.46" r="1.55"/><circle cx="306.06" cy="337.54" r="1.55"/><circle cx="299.71" cy="338.85" r="1.55"/><circle cx="305.18" cy="351.52" r="1.55"/><circle cx="301.69" cy="358.01" r="1.55"/><circle cx="302.07" cy="344.96" r="1.55"/><circle cx="299.92" cy="359.26" r="1.55"/><circle cx="299.99" cy="357.31" r="1.55"/><circle cx="304.64" cy="347.70" r="1.55"/><circle cx="304.92" cy="339.40" r="1.55"/><circle cx="311.84" cy="359.78" r="1.55"/><circle cx="309.79" cy="348.84" r="1.55"/><circle cx="299.91" cy="355.09" r="1.55"/><circle cx="301.25" cy="357.12" r="1.55"/><circle cx="300.79" cy="348.06" r="1.55"/><circle cx="310.08" cy="337.20" r="1.55"/><circle cx="304.71" cy="334.14" r="1.55"/><circle cx="299.54" cy="337.04" r="1.55"/><circle cx="313.68" cy="358.30" r="1.55"/><circle cx="306.62" cy="340.61" r="1.55"/><circle cx="306.86" cy="352.66" r="1.55"/><circle cx="302.32" cy="348.57" r="1.55"/><circle cx="309.50" cy="332.46" r="1.55"/><circle cx="300.44" cy="345.10" r="1.55"/><circle cx="300.03" cy="342.82" r="1.55"/><circle cx="305.07" cy="336.86" r="1.55"/><circle cx="304.27" cy="339.38" r="1.55"/><circle cx="305.04" cy="341.30" r="1.55"/><circle cx="306.32" cy="333.06" r="1.55"/><circle cx="306.86" cy="336.05" r="1.55"/><circle cx="313.01" cy="348.80" r="1.55"/><circle cx="303.52" cy="343.52" r="1.55"/><circle cx="306.00" cy="351.30" r="1.55"/><circle cx="308.55" cy="353.05" r="1.55"/><circle cx="303.75" cy="359.85" r="1.55"/><circle cx="310.24" cy="355.94" r="1.55"/><circle cx="302.67" cy="344.15" r="1.55"/><circle cx="305.01" cy="357.35" r="1.55"/><circle cx="304.36" cy="346.70" r="1.55"/><circle cx="302.98" cy="357.32" r="1.55"/><circle cx="301.60" cy="333.53" r="1.55"/><circle cx="307.90" cy="357.20" r="1.55"/><circle cx="308.03" cy="348.73" r="1.55"/><circle cx="308.43" cy="340.53" r="1.55"/><circle cx="305.47" cy="333.95" r="1.55"/><circle cx="299.92" cy="344.51" r="1.55"/><circle cx="304.00" cy="343.11" r="1.55"/><circle cx="299.60" cy="351.46" r="1.55"/><circle cx="304.37" cy="338.70" r="1.55"/><circle cx="301.44" cy="343.07" r="1.55"/><circle cx="300.74" cy="333.92" r="1.55"/><circle cx="311.88" cy="359.06" r="1.55"/><circle cx="306.76" cy="356.26" r="1.55"/><circle cx="302.84" cy="354.55" r="1.55"/><circle cx="300.62" cy="352.91" r="1.55"/><circle cx="305.02" cy="357.30" r="1.55"/><circle cx="299.78" cy="354.19" r="1.55"/><circle cx="299.92" cy="347.05" r="1.55"/><circle cx="312.81" cy="332.02" r="1.55"/><circle cx="300.82" cy="340.38" r="1.55"/></g>
<line x1="302.00" y1="338.40" x2="400.60" y2="354.70" stroke="#2360a8" stroke-width="1.1"/>
<rect x="298.20" y="280.30" width="105.90" height="101.30" fill="none" stroke="#444" stroke-width="1.1"/>
<line x1="295.60" y1="280.30" x2="298.20" y2="280.30" stroke="#444" stroke-width="0.7"/>
<text x="293.60" y="282.50" font-size="5.8" text-anchor="end" fill="#1e1e1e" stroke="#1e1e1e" stroke-width="0.1">0.4</text>
<line x1="295.60" y1="297.18" x2="298.20" y2="297.18" stroke="#444" stroke-width="0.7"/>
<text x="293.60" y="299.38" font-size="5.8" text-anchor="end" fill="#1e1e1e" stroke="#1e1e1e" stroke-width="0.1">0.3</text>
<line x1="295.60" y1="314.07" x2="298.20" y2="314.07" stroke="#444" stroke-width="0.7"/>
<text x="293.60" y="316.27" font-size="5.8" text-anchor="end" fill="#1e1e1e" stroke="#1e1e1e" stroke-width="0.1">0.2</text>
<line x1="295.60" y1="330.95" x2="298.20" y2="330.95" stroke="#444" stroke-width="0.7"/>
<text x="293.60" y="333.15" font-size="5.8" text-anchor="end" fill="#1e1e1e" stroke="#1e1e1e" stroke-width="0.1">0.1</text>
<line x1="295.60" y1="347.83" x2="298.20" y2="347.83" stroke="#444" stroke-width="0.7"/>
<text x="293.60" y="350.03" font-size="5.8" text-anchor="end" fill="#1e1e1e" stroke="#1e1e1e" stroke-width="0.1">0.0</text>
<line x1="295.60" y1="364.72" x2="298.20" y2="364.72" stroke="#444" stroke-width="0.7"/>
<text x="293.60" y="366.92" font-size="5.8" text-anchor="end" fill="#1e1e1e" stroke="#1e1e1e" stroke-width="0.1">−0.1</text>
<line x1="295.60" y1="381.60" x2="298.20" y2="381.60" stroke="#444" stroke-width="0.7"/>
<text x="293.60" y="383.80" font-size="5.8" text-anchor="end" fill="#1e1e1e" stroke="#1e1e1e" stroke-width="0.1">−0.2</text>
<line x1="301.41" y1="381.60" x2="301.41" y2="384.20" stroke="#444" stroke-width="0.7"/>
<text x="301.41" y="390.80" font-size="5.8" text-anchor="middle" fill="#1e1e1e" stroke="#1e1e1e" stroke-width="0.1">0</text>
<line x1="337.01" y1="381.60" x2="337.01" y2="384.20" stroke="#444" stroke-width="0.7"/>
<text x="337.01" y="390.80" font-size="5.8" text-anchor="middle" fill="#1e1e1e" stroke="#1e1e1e" stroke-width="0.1">1</text>
<line x1="372.60" y1="381.60" x2="372.60" y2="384.20" stroke="#444" stroke-width="0.7"/>
<text x="372.60" y="390.80" font-size="5.8" text-anchor="middle" fill="#1e1e1e" stroke="#1e1e1e" stroke-width="0.1">2</text>
<text x="351.15" y="399.50" font-size="6.65" text-anchor="middle" fill="#222" stroke="#222" stroke-width="0.1">The expression of AMBN</text>
<text x="351.15" y="406.20" font-size="6.65" text-anchor="middle" fill="#222" >Log<tspan font-size="4.6" dy="1.6">2</tspan><tspan dy="-1.6"> (TPM+1)</tspan></text>
<text x="278.80" y="330.95" font-size="6.4" text-anchor="middle" fill="#222" stroke="#222" stroke-width="0.1" transform="rotate(-90 278.80 330.95)">Enrichment of Th17 cells</text>
<text x="400.60" y="358.80" font-size="5.8" text-anchor="end" fill="#2f66ad" stroke="#2f66ad" stroke-width="0.1">Spearman</text>
<text x="400.60" y="366.90" font-size="5.8" text-anchor="end" fill="#2f66ad" stroke="#2f66ad" stroke-width="0.1">r = -0.151</text>
<text x="400.60" y="375.40" font-size="5.8" text-anchor="end" fill="#2f66ad" stroke="#2f66ad" stroke-width="0.1">P = 0.066</text>
<line x1="435.50" y1="300.42" x2="540.00" y2="300.42" stroke="#f2f2f2" stroke-width="0.6"/>
<line x1="435.50" y1="330.85" x2="540.00" y2="330.85" stroke="#f2f2f2" stroke-width="0.6"/>
<line x1="435.50" y1="361.28" x2="540.00" y2="361.28" stroke="#f2f2f2" stroke-width="0.6"/>
<line x1="456.23" y1="280.30" x2="456.23" y2="381.60" stroke="#f2f2f2" stroke-width="0.6"/>
<line x1="491.36" y1="280.30" x2="491.36" y2="381.60" stroke="#f2f2f2" stroke-width="0.6"/>
<line x1="526.48" y1="280.30" x2="526.48" y2="381.60" stroke="#f2f2f2" stroke-width="0.6"/>
<line x1="435.50" y1="285.20" x2="540.00" y2="285.20" stroke="#e3e3e3" stroke-width="0.8"/>
<line x1="435.50" y1="315.63" x2="540.00" y2="315.63" stroke="#e3e3e3" stroke-width="0.8"/>
<line x1="435.50" y1="346.07" x2="540.00" y2="346.07" stroke="#e3e3e3" stroke-width="0.8"/>
<line x1="435.50" y1="376.50" x2="540.00" y2="376.50" stroke="#e3e3e3" stroke-width="0.8"/>
<line x1="438.67" y1="280.30" x2="438.67" y2="381.60" stroke="#e3e3e3" stroke-width="0.8"/>
<line x1="473.79" y1="280.30" x2="473.79" y2="381.60" stroke="#e3e3e3" stroke-width="0.8"/>
<line x1="508.92" y1="280.30" x2="508.92" y2="381.60" stroke="#e3e3e3" stroke-width="0.8"/>
<polygon points="438.60,325.50 441.05,326.12 443.50,326.68 445.95,327.16 448.40,327.55 450.85,327.85 453.30,328.07 455.75,328.22 458.20,328.30 460.65,328.35 463.10,328.35 465.55,328.34 468.00,328.30 470.45,328.25 472.90,328.18 475.35,328.11 477.80,328.03 480.25,327.95 482.70,327.85 485.15,327.76 487.60,327.66 490.05,327.56 492.50,327.46 494.95,327.35 497.40,327.24 499.85,327.13 502.30,327.02 504.75,326.91 507.20,326.80 509.65,326.69 512.10,326.57 514.55,326.46 517.00,326.34 519.45,326.23 521.90,326.11 524.35,325.99 526.80,325.87 529.25,325.76 531.70,325.64 534.15,325.52 536.60,325.40 536.60,361.00 534.15,360.16 531.70,359.31 529.25,358.47 526.80,357.63 524.35,356.78 521.90,355.94 519.45,355.10 517.00,354.26 514.55,353.42 512.10,352.58 509.65,351.74 507.20,350.90 504.75,350.06 502.30,349.23 499.85,348.39 497.40,347.56 494.95,346.72 492.50,345.89 490.05,345.06 487.60,344.24 485.15,343.42 482.70,342.60 480.25,341.78 477.80,340.97 475.35,340.16 472.90,339.37 470.45,338.58 468.00,337.80 465.55,337.04 463.10,336.30 460.65,335.58 458.20,334.90 455.75,334.26 453.30,333.68 450.85,333.17 448.40,332.75 445.95,332.42 443.50,332.17 441.05,332.01 438.60,331.90" fill="#9db6d6" fill-opacity="0.55"/>
<g fill="#2a66ad" fill-opacity="0.7" stroke="#184c90" stroke-opacity="0.9" stroke-width="0.55"><circle cx="456.83" cy="282.97" r="1.55"/><circle cx="450.87" cy="284.45" r="1.55"/><circle cx="440.15" cy="289.42" r="1.55"/><circle cx="443.43" cy="287.93" r="1.55"/><circle cx="457.33" cy="289.72" r="1.55"/><circle cx="438.46" cy="295.38" r="1.55"/><circle cx="443.92" cy="295.38" r="1.55"/><circle cx="445.41" cy="294.09" r="1.55"/><circle cx="438.96" cy="299.35" r="1.55"/><circle cx="441.44" cy="299.35" r="1.55"/><circle cx="444.92" cy="303.32" r="1.55"/><circle cx="450.87" cy="303.32" r="1.55"/><circle cx="454.65" cy="305.01" r="1.55"/><circle cx="459.32" cy="306.60" r="1.55"/><circle cx="463.59" cy="304.02" r="1.55"/><circle cx="448.89" cy="310.27" r="1.55"/><circle cx="452.86" cy="312.76" r="1.55"/><circle cx="456.83" cy="316.23" r="1.55"/><circle cx="460.81" cy="315.74" r="1.55"/><circle cx="439.95" cy="309.78" r="1.55"/><circle cx="442.43" cy="311.27" r="1.55"/><circle cx="445.91" cy="314.74" r="1.55"/><circle cx="452.36" cy="318.52" r="1.55"/><circle cx="477.69" cy="321.69" r="1.55"/><circle cx="485.14" cy="315.74" r="1.55"/><circle cx="454.35" cy="329.14" r="1.55"/><circle cx="450.38" cy="323.68" r="1.55"/><circle cx="450.38" cy="331.48" r="1.55"/><circle cx="443.92" cy="335.95" r="1.55"/><circle cx="446.41" cy="338.43" r="1.55"/><circle cx="451.87" cy="337.44" r="1.55"/><circle cx="462.79" cy="335.45" r="1.55"/><circle cx="461.80" cy="338.93" r="1.55"/><circle cx="463.29" cy="340.92" r="1.55"/><circle cx="449.88" cy="341.41" r="1.55"/><circle cx="449.39" cy="344.89" r="1.55"/><circle cx="455.34" cy="345.88" r="1.55"/><circle cx="459.32" cy="343.70" r="1.55"/><circle cx="463.29" cy="342.90" r="1.55"/><circle cx="464.28" cy="348.36" r="1.55"/><circle cx="460.81" cy="351.34" r="1.55"/><circle cx="442.43" cy="341.41" r="1.55"/><circle cx="438.46" cy="343.90" r="1.55"/><circle cx="441.94" cy="346.87" r="1.55"/><circle cx="438.46" cy="349.85" r="1.55"/><circle cx="443.92" cy="351.34" r="1.55"/><circle cx="441.44" cy="354.82" r="1.55"/><circle cx="438.96" cy="357.80" r="1.55"/><circle cx="438.46" cy="361.77" r="1.55"/><circle cx="445.41" cy="363.26" r="1.55"/><circle cx="444.42" cy="365.74" r="1.55"/><circle cx="456.34" cy="360.78" r="1.55"/><circle cx="458.32" cy="360.58" r="1.55"/><circle cx="456.83" cy="362.76" r="1.55"/><circle cx="468.25" cy="366.54" r="1.55"/><circle cx="478.18" cy="358.29" r="1.55"/><circle cx="438.96" cy="371.20" r="1.55"/><circle cx="440.45" cy="373.19" r="1.55"/><circle cx="515.00" cy="332.50" r="1.55"/><circle cx="537.10" cy="325.40" r="1.55"/><circle cx="529.00" cy="345.20" r="1.55"/><circle cx="493.80" cy="376.30" r="1.55"/><circle cx="516.80" cy="378.90" r="1.55"/><circle cx="437.77" cy="306.88" r="1.55"/><circle cx="445.94" cy="329.46" r="1.55"/><circle cx="438.50" cy="315.69" r="1.55"/><circle cx="440.83" cy="306.38" r="1.55"/><circle cx="436.40" cy="331.96" r="1.55"/><circle cx="437.62" cy="319.95" r="1.55"/><circle cx="446.68" cy="334.32" r="1.55"/><circle cx="439.36" cy="311.20" r="1.55"/><circle cx="437.51" cy="332.68" r="1.55"/><circle cx="445.97" cy="310.87" r="1.55"/><circle cx="444.88" cy="315.62" r="1.55"/><circle cx="439.35" cy="310.16" r="1.55"/><circle cx="445.65" cy="334.86" r="1.55"/><circle cx="436.79" cy="323.97" r="1.55"/><circle cx="436.72" cy="331.41" r="1.55"/><circle cx="436.40" cy="308.18" r="1.55"/><circle cx="442.96" cy="314.39" r="1.55"/><circle cx="446.04" cy="331.09" r="1.55"/><circle cx="442.75" cy="309.05" r="1.55"/><circle cx="442.48" cy="333.13" r="1.55"/><circle cx="439.03" cy="307.37" r="1.55"/><circle cx="436.94" cy="314.21" r="1.55"/><circle cx="442.71" cy="310.89" r="1.55"/><circle cx="436.66" cy="312.06" r="1.55"/><circle cx="441.99" cy="328.71" r="1.55"/><circle cx="438.24" cy="324.86" r="1.55"/><circle cx="445.74" cy="322.70" r="1.55"/><circle cx="436.98" cy="314.03" r="1.55"/><circle cx="446.54" cy="325.01" r="1.55"/><circle cx="437.35" cy="324.20" r="1.55"/><circle cx="436.40" cy="334.49" r="1.55"/><circle cx="438.98" cy="320.85" r="1.55"/><circle cx="440.09" cy="306.36" r="1.55"/><circle cx="441.03" cy="313.54" r="1.55"/><circle cx="437.14" cy="329.10" r="1.55"/><circle cx="436.40" cy="313.55" r="1.55"/><circle cx="443.45" cy="312.38" r="1.55"/><circle cx="437.37" cy="321.44" r="1.55"/><circle cx="436.69" cy="331.91" r="1.55"/><circle cx="447.75" cy="306.01" r="1.55"/><circle cx="439.22" cy="327.52" r="1.55"/><circle cx="438.37" cy="332.88" r="1.55"/><circle cx="439.69" cy="310.40" r="1.55"/><circle cx="440.42" cy="324.35" r="1.55"/><circle cx="438.11" cy="324.75" r="1.55"/><circle cx="443.92" cy="320.50" r="1.55"/><circle cx="439.76" cy="330.36" r="1.55"/><circle cx="442.30" cy="320.62" r="1.55"/><circle cx="447.03" cy="310.22" r="1.55"/><circle cx="443.86" cy="309.96" r="1.55"/><circle cx="441.15" cy="312.06" r="1.55"/><circle cx="438.98" cy="328.19" r="1.55"/><circle cx="443.98" cy="328.73" r="1.55"/><circle cx="437.03" cy="319.67" r="1.55"/><circle cx="436.92" cy="322.40" r="1.55"/><circle cx="439.68" cy="306.06" r="1.55"/><circle cx="440.99" cy="326.44" r="1.55"/><circle cx="440.65" cy="331.19" r="1.55"/><circle cx="436.65" cy="309.55" r="1.55"/><circle cx="436.40" cy="319.88" r="1.55"/><circle cx="438.94" cy="350.72" r="1.55"/><circle cx="437.83" cy="358.57" r="1.55"/><circle cx="437.09" cy="360.96" r="1.55"/><circle cx="440.07" cy="352.95" r="1.55"/><circle cx="442.38" cy="346.24" r="1.55"/><circle cx="437.30" cy="347.84" r="1.55"/><circle cx="437.04" cy="347.92" r="1.55"/><circle cx="440.56" cy="352.56" r="1.55"/><circle cx="437.84" cy="353.95" r="1.55"/><circle cx="437.13" cy="359.05" r="1.55"/><circle cx="437.40" cy="346.61" r="1.55"/><circle cx="437.35" cy="356.19" r="1.55"/><circle cx="442.84" cy="358.31" r="1.55"/><circle cx="437.07" cy="350.03" r="1.55"/><circle cx="438.44" cy="345.76" r="1.55"/><circle cx="444.60" cy="341.93" r="1.55"/><circle cx="439.38" cy="357.75" r="1.55"/><circle cx="444.81" cy="344.18" r="1.55"/><circle cx="439.10" cy="357.39" r="1.55"/><circle cx="437.03" cy="346.29" r="1.55"/><circle cx="443.56" cy="344.11" r="1.55"/><circle cx="438.63" cy="347.56" r="1.55"/><circle cx="438.86" cy="342.68" r="1.55"/><circle cx="437.03" cy="362.91" r="1.55"/><circle cx="442.05" cy="357.15" r="1.55"/></g>
<line x1="438.60" y1="328.70" x2="536.60" y2="343.20" stroke="#2360a8" stroke-width="1.1"/>
<rect x="435.50" y="280.30" width="104.50" height="101.30" fill="none" stroke="#444" stroke-width="1.1"/>
<line x1="432.90" y1="285.20" x2="435.50" y2="285.20" stroke="#444" stroke-width="0.7"/>
<text x="430.90" y="287.40" font-size="5.8" text-anchor="end" fill="#1e1e1e" stroke="#1e1e1e" stroke-width="0.1">0.50</text>
<line x1="432.90" y1="315.63" x2="435.50" y2="315.63" stroke="#444" stroke-width="0.7"/>
<text x="430.90" y="317.83" font-size="5.8" text-anchor="end" fill="#1e1e1e" stroke="#1e1e1e" stroke-width="0.1">0.45</text>
<line x1="432.90" y1="346.07" x2="435.50" y2="346.07" stroke="#444" stroke-width="0.7"/>
<text x="430.90" y="348.27" font-size="5.8" text-anchor="end" fill="#1e1e1e" stroke="#1e1e1e" stroke-width="0.1">0.40</text>
<line x1="432.90" y1="376.50" x2="435.50" y2="376.50" stroke="#444" stroke-width="0.7"/>
<text x="430.90" y="378.70" font-size="5.8" text-anchor="end" fill="#1e1e1e" stroke="#1e1e1e" stroke-width="0.1">0.35</text>
<line x1="438.67" y1="381.60" x2="438.67" y2="384.20" stroke="#444" stroke-width="0.7"/>
<text x="438.67" y="390.80" font-size="5.8" text-anchor="middle" fill="#1e1e1e" stroke="#1e1e1e" stroke-width="0.1">0</text>
<line x1="473.79" y1="381.60" x2="473.79" y2="384.20" stroke="#444" stroke-width="0.7"/>
<text x="473.79" y="390.80" font-size="5.8" text-anchor="middle" fill="#1e1e1e" stroke="#1e1e1e" stroke-width="0.1">1</text>
<line x1="508.92" y1="381.60" x2="508.92" y2="384.20" stroke="#444" stroke-width="0.7"/>
<text x="508.92" y="390.80" font-size="5.8" text-anchor="middle" fill="#1e1e1e" stroke="#1e1e1e" stroke-width="0.1">2</text>
<text x="487.75" y="399.50" font-size="6.65" text-anchor="middle" fill="#222" stroke="#222" stroke-width="0.1">The expression of AMBN</text>
<text x="487.75" y="406.20" font-size="6.65" text-anchor="middle" fill="#222" >Log<tspan font-size="4.6" dy="1.6">2</tspan><tspan dy="-1.6"> (TPM+1)</tspan></text>
<text x="413.50" y="330.95" font-size="6.4" text-anchor="middle" fill="#222" stroke="#222" stroke-width="0.1" transform="rotate(-90 413.50 330.95)">Enrichment of Tcm</text>
<text x="536.60" y="363.10" font-size="5.8" text-anchor="end" fill="#2f66ad" stroke="#2f66ad" stroke-width="0.1">Spearman</text>
<text x="536.60" y="371.00" font-size="5.8" text-anchor="end" fill="#2f66ad" stroke="#2f66ad" stroke-width="0.1">r = 0.082</text>
<text x="536.60" y="378.70" font-size="5.8" text-anchor="end" fill="#2f66ad" stroke="#2f66ad" stroke-width="0.1">P = 0.318</text>
<line x1="295.00" y1="414.77" x2="402.40" y2="414.77" stroke="#f2f2f2" stroke-width="0.6"/>
<line x1="295.00" y1="433.23" x2="402.40" y2="433.23" stroke="#f2f2f2" stroke-width="0.6"/>
<line x1="295.00" y1="451.69" x2="402.40" y2="451.69" stroke="#f2f2f2" stroke-width="0.6"/>
<line x1="295.00" y1="470.15" x2="402.40" y2="470.15" stroke="#f2f2f2" stroke-width="0.6"/>
<line x1="295.00" y1="488.61" x2="402.40" y2="488.61" stroke="#f2f2f2" stroke-width="0.6"/>
<line x1="295.00" y1="507.07" x2="402.40" y2="507.07" stroke="#f2f2f2" stroke-width="0.6"/>
<line x1="316.30" y1="414.60" x2="316.30" y2="516.30" stroke="#f2f2f2" stroke-width="0.6"/>
<line x1="352.41" y1="414.60" x2="352.41" y2="516.30" stroke="#f2f2f2" stroke-width="0.6"/>
<line x1="388.51" y1="414.60" x2="388.51" y2="516.30" stroke="#f2f2f2" stroke-width="0.6"/>
<line x1="295.00" y1="424.00" x2="402.40" y2="424.00" stroke="#e3e3e3" stroke-width="0.8"/>
<line x1="295.00" y1="442.46" x2="402.40" y2="442.46" stroke="#e3e3e3" stroke-width="0.8"/>
<line x1="295.00" y1="460.92" x2="402.40" y2="460.92" stroke="#e3e3e3" stroke-width="0.8"/>
<line x1="295.00" y1="479.38" x2="402.40" y2="479.38" stroke="#e3e3e3" stroke-width="0.8"/>
<line x1="295.00" y1="497.84" x2="402.40" y2="497.84" stroke="#e3e3e3" stroke-width="0.8"/>
<line x1="298.25" y1="414.60" x2="298.25" y2="516.30" stroke="#e3e3e3" stroke-width="0.8"/>
<line x1="334.36" y1="414.60" x2="334.36" y2="516.30" stroke="#e3e3e3" stroke-width="0.8"/>
<line x1="370.46" y1="414.60" x2="370.46" y2="516.30" stroke="#e3e3e3" stroke-width="0.8"/>
<polygon points="297.90,453.17 300.42,453.69 302.94,454.15 305.46,454.54 307.98,454.84 310.50,455.06 313.02,455.19 315.54,455.25 318.06,455.25 320.58,455.21 323.10,455.13 325.62,455.03 328.14,454.90 330.66,454.76 333.18,454.60 335.70,454.44 338.22,454.27 340.74,454.09 343.26,453.90 345.78,453.72 348.30,453.53 350.82,453.33 353.34,453.14 355.86,452.94 358.38,452.74 360.90,452.53 363.42,452.33 365.94,452.13 368.46,451.92 370.98,451.71 373.50,451.51 376.02,451.30 378.54,451.09 381.06,450.88 383.58,450.67 386.10,450.46 388.62,450.25 391.14,450.04 393.66,449.82 396.18,449.61 398.70,449.40 398.70,484.20 396.18,483.47 393.66,482.74 391.14,482.00 388.62,481.27 386.10,480.54 383.58,479.81 381.06,479.08 378.54,478.35 376.02,477.62 373.50,476.89 370.98,476.17 368.46,475.44 365.94,474.71 363.42,473.99 360.90,473.27 358.38,472.54 355.86,471.82 353.34,471.10 350.82,470.39 348.30,469.67 345.78,468.96 343.26,468.26 340.74,467.55 338.22,466.85 335.70,466.16 333.18,465.48 330.66,464.80 328.14,464.14 325.62,463.49 323.10,462.87 320.58,462.27 318.06,461.71 315.54,461.19 313.02,460.73 310.50,460.34 307.98,460.04 305.46,459.82 302.94,459.69 300.42,459.63 297.90,459.63" fill="#9db6d6" fill-opacity="0.55"/>
<g fill="#2a66ad" fill-opacity="0.7" stroke="#184c90" stroke-opacity="0.9" stroke-width="0.55"><circle cx="298.16" cy="417.17" r="1.55"/><circle cx="302.92" cy="420.45" r="1.55"/><circle cx="301.14" cy="421.44" r="1.55"/><circle cx="314.64" cy="425.41" r="1.55"/><circle cx="315.34" cy="429.39" r="1.55"/><circle cx="323.78" cy="427.70" r="1.55"/><circle cx="322.29" cy="430.38" r="1.55"/><circle cx="305.90" cy="435.64" r="1.55"/><circle cx="308.39" cy="435.64" r="1.55"/><circle cx="323.28" cy="441.60" r="1.55"/><circle cx="320.80" cy="445.27" r="1.55"/><circle cx="323.78" cy="444.98" r="1.55"/><circle cx="308.39" cy="444.78" r="1.55"/><circle cx="304.91" cy="442.79" r="1.55"/><circle cx="310.37" cy="451.23" r="1.55"/><circle cx="312.36" cy="451.73" r="1.55"/><circle cx="316.83" cy="453.71" r="1.55"/><circle cx="324.77" cy="453.22" r="1.55"/><circle cx="328.74" cy="452.23" r="1.55"/><circle cx="309.87" cy="456.69" r="1.55"/><circle cx="318.81" cy="459.67" r="1.55"/><circle cx="338.67" cy="461.66" r="1.55"/><circle cx="316.83" cy="464.44" r="1.55"/><circle cx="309.87" cy="465.49" r="1.55"/><circle cx="318.81" cy="466.98" r="1.55"/><circle cx="305.90" cy="468.97" r="1.55"/><circle cx="309.87" cy="468.47" r="1.55"/><circle cx="320.80" cy="471.45" r="1.55"/><circle cx="308.39" cy="472.94" r="1.55"/><circle cx="306.90" cy="475.42" r="1.55"/><circle cx="299.94" cy="477.90" r="1.55"/><circle cx="319.31" cy="478.70" r="1.55"/><circle cx="304.41" cy="479.69" r="1.55"/><circle cx="308.39" cy="480.39" r="1.55"/><circle cx="297.96" cy="483.86" r="1.55"/><circle cx="302.43" cy="483.86" r="1.55"/><circle cx="304.91" cy="482.37" r="1.55"/><circle cx="303.42" cy="487.34" r="1.55"/><circle cx="297.96" cy="492.00" r="1.55"/><circle cx="306.40" cy="494.29" r="1.55"/><circle cx="308.39" cy="494.59" r="1.55"/><circle cx="311.86" cy="494.98" r="1.55"/><circle cx="310.87" cy="497.76" r="1.55"/><circle cx="314.84" cy="498.56" r="1.55"/><circle cx="299.45" cy="504.22" r="1.55"/><circle cx="323.78" cy="508.19" r="1.55"/><circle cx="305.90" cy="510.47" r="1.55"/><circle cx="353.80" cy="446.30" r="1.55"/><circle cx="376.90" cy="432.20" r="1.55"/><circle cx="376.90" cy="477.10" r="1.55"/><circle cx="391.10" cy="469.50" r="1.55"/><circle cx="398.70" cy="456.40" r="1.55"/><circle cx="346.10" cy="491.90" r="1.55"/><circle cx="296.74" cy="428.41" r="1.55"/><circle cx="299.28" cy="427.84" r="1.55"/><circle cx="298.42" cy="461.69" r="1.55"/><circle cx="297.61" cy="432.52" r="1.55"/><circle cx="304.72" cy="445.93" r="1.55"/><circle cx="296.04" cy="435.75" r="1.55"/><circle cx="300.32" cy="418.87" r="1.55"/><circle cx="297.46" cy="450.04" r="1.55"/><circle cx="303.03" cy="444.94" r="1.55"/><circle cx="303.33" cy="438.67" r="1.55"/><circle cx="297.84" cy="457.31" r="1.55"/><circle cx="297.75" cy="454.29" r="1.55"/><circle cx="296.66" cy="433.02" r="1.55"/><circle cx="296.50" cy="442.93" r="1.55"/><circle cx="296.42" cy="425.98" r="1.55"/><circle cx="296.66" cy="438.92" r="1.55"/><circle cx="297.22" cy="437.91" r="1.55"/><circle cx="304.90" cy="449.28" r="1.55"/><circle cx="303.00" cy="426.02" r="1.55"/><circle cx="297.76" cy="419.57" r="1.55"/><circle cx="300.81" cy="433.78" r="1.55"/><circle cx="297.00" cy="416.91" r="1.55"/><circle cx="296.50" cy="428.85" r="1.55"/><circle cx="297.84" cy="461.25" r="1.55"/><circle cx="301.09" cy="429.16" r="1.55"/><circle cx="297.59" cy="423.52" r="1.55"/><circle cx="304.05" cy="433.63" r="1.55"/><circle cx="301.72" cy="451.45" r="1.55"/><circle cx="303.62" cy="417.00" r="1.55"/><circle cx="297.31" cy="434.84" r="1.55"/><circle cx="296.13" cy="459.24" r="1.55"/><circle cx="297.33" cy="453.76" r="1.55"/><circle cx="298.95" cy="418.69" r="1.55"/><circle cx="297.85" cy="427.68" r="1.55"/><circle cx="296.04" cy="423.39" r="1.55"/><circle cx="299.73" cy="417.56" r="1.55"/><circle cx="297.24" cy="436.78" r="1.55"/><circle cx="299.20" cy="422.66" r="1.55"/><circle cx="300.99" cy="428.76" r="1.55"/><circle cx="301.22" cy="448.64" r="1.55"/><circle cx="296.35" cy="426.04" r="1.55"/><circle cx="297.04" cy="450.93" r="1.55"/><circle cx="297.94" cy="434.94" r="1.55"/><circle cx="303.05" cy="427.08" r="1.55"/><circle cx="297.11" cy="432.90" r="1.55"/><circle cx="296.66" cy="417.99" r="1.55"/><circle cx="296.02" cy="446.89" r="1.55"/><circle cx="299.42" cy="455.63" r="1.55"/><circle cx="304.63" cy="430.61" r="1.55"/><circle cx="300.56" cy="461.03" r="1.55"/><circle cx="296.67" cy="449.77" r="1.55"/><circle cx="300.52" cy="462.80" r="1.55"/><circle cx="303.08" cy="427.50" r="1.55"/><circle cx="300.13" cy="420.40" r="1.55"/><circle cx="298.12" cy="435.23" r="1.55"/><circle cx="296.08" cy="434.78" r="1.55"/><circle cx="297.20" cy="470.96" r="1.55"/><circle cx="296.92" cy="466.22" r="1.55"/><circle cx="297.70" cy="470.65" r="1.55"/><circle cx="296.38" cy="473.31" r="1.55"/><circle cx="296.71" cy="465.30" r="1.55"/><circle cx="297.29" cy="469.91" r="1.55"/><circle cx="296.32" cy="472.16" r="1.55"/><circle cx="300.38" cy="471.74" r="1.55"/><circle cx="300.36" cy="464.32" r="1.55"/><circle cx="297.62" cy="469.10" r="1.55"/><circle cx="296.07" cy="469.66" r="1.55"/><circle cx="296.06" cy="470.94" r="1.55"/><circle cx="299.22" cy="470.57" r="1.55"/><circle cx="297.19" cy="467.55" r="1.55"/><circle cx="296.01" cy="468.86" r="1.55"/><circle cx="302.58" cy="471.92" r="1.55"/><circle cx="296.82" cy="473.35" r="1.55"/><circle cx="296.46" cy="470.57" r="1.55"/><circle cx="299.50" cy="477.37" r="1.55"/><circle cx="297.43" cy="472.07" r="1.55"/><circle cx="303.23" cy="474.80" r="1.55"/><circle cx="299.62" cy="472.69" r="1.55"/><circle cx="297.76" cy="469.82" r="1.55"/><circle cx="296.90" cy="475.61" r="1.55"/><circle cx="302.43" cy="469.35" r="1.55"/><circle cx="302.81" cy="464.53" r="1.55"/><circle cx="296.27" cy="471.10" r="1.55"/><circle cx="297.08" cy="469.05" r="1.55"/><circle cx="303.69" cy="466.10" r="1.55"/><circle cx="296.49" cy="467.20" r="1.55"/><circle cx="306.64" cy="448.21" r="1.55"/><circle cx="303.00" cy="459.03" r="1.55"/><circle cx="304.44" cy="448.38" r="1.55"/><circle cx="305.11" cy="462.76" r="1.55"/><circle cx="305.52" cy="461.85" r="1.55"/><circle cx="305.62" cy="469.09" r="1.55"/><circle cx="309.63" cy="451.67" r="1.55"/><circle cx="304.16" cy="471.02" r="1.55"/><circle cx="303.97" cy="465.06" r="1.55"/><circle cx="306.77" cy="464.03" r="1.55"/><circle cx="309.58" cy="468.85" r="1.55"/><circle cx="303.31" cy="461.76" r="1.55"/></g>
<line x1="297.90" y1="456.40" x2="398.70" y2="466.80" stroke="#2360a8" stroke-width="1.1"/>
<rect x="295.00" y="414.60" width="107.40" height="101.70" fill="none" stroke="#444" stroke-width="1.1"/>
<line x1="292.40" y1="424.00" x2="295.00" y2="424.00" stroke="#444" stroke-width="0.7"/>
<text x="290.40" y="426.20" font-size="5.8" text-anchor="end" fill="#1e1e1e" stroke="#1e1e1e" stroke-width="0.1">0.5</text>
<line x1="292.40" y1="442.46" x2="295.00" y2="442.46" stroke="#444" stroke-width="0.7"/>
<text x="290.40" y="444.66" font-size="5.8" text-anchor="end" fill="#1e1e1e" stroke="#1e1e1e" stroke-width="0.1">0.4</text>
<line x1="292.40" y1="460.92" x2="295.00" y2="460.92" stroke="#444" stroke-width="0.7"/>
<text x="290.40" y="463.12" font-size="5.8" text-anchor="end" fill="#1e1e1e" stroke="#1e1e1e" stroke-width="0.1">0.3</text>
<line x1="292.40" y1="479.38" x2="295.00" y2="479.38" stroke="#444" stroke-width="0.7"/>
<text x="290.40" y="481.58" font-size="5.8" text-anchor="end" fill="#1e1e1e" stroke="#1e1e1e" stroke-width="0.1">0.2</text>
<line x1="292.40" y1="497.84" x2="295.00" y2="497.84" stroke="#444" stroke-width="0.7"/>
<text x="290.40" y="500.04" font-size="5.8" text-anchor="end" fill="#1e1e1e" stroke="#1e1e1e" stroke-width="0.1">0.1</text>
<line x1="292.40" y1="516.30" x2="295.00" y2="516.30" stroke="#444" stroke-width="0.7"/>
<text x="290.40" y="518.50" font-size="5.8" text-anchor="end" fill="#1e1e1e" stroke="#1e1e1e" stroke-width="0.1">0.0</text>
<line x1="298.25" y1="516.30" x2="298.25" y2="518.90" stroke="#444" stroke-width="0.7"/>
<text x="298.25" y="525.50" font-size="5.8" text-anchor="middle" fill="#1e1e1e" stroke="#1e1e1e" stroke-width="0.1">0</text>
<line x1="334.36" y1="516.30" x2="334.36" y2="518.90" stroke="#444" stroke-width="0.7"/>
<text x="334.36" y="525.50" font-size="5.8" text-anchor="middle" fill="#1e1e1e" stroke="#1e1e1e" stroke-width="0.1">1</text>
<line x1="370.46" y1="516.30" x2="370.46" y2="518.90" stroke="#444" stroke-width="0.7"/>
<text x="370.46" y="525.50" font-size="5.8" text-anchor="middle" fill="#1e1e1e" stroke="#1e1e1e" stroke-width="0.1">2</text>
<text x="348.70" y="534.20" font-size="6.65" text-anchor="middle" fill="#222" stroke="#222" stroke-width="0.1">The expression of AMBN</text>
<text x="348.70" y="540.90" font-size="6.65" text-anchor="middle" fill="#222" >Log<tspan font-size="4.6" dy="1.6">2</tspan><tspan dy="-1.6"> (TPM+1)</tspan></text>
<text x="278.80" y="465.45" font-size="6.4" text-anchor="middle" fill="#222" stroke="#222" stroke-width="0.1" transform="rotate(-90 278.80 465.45)">Enrichment of DC</text>
<text x="398.80" y="493.90" font-size="5.8" text-anchor="end" fill="#2f66ad" stroke="#2f66ad" stroke-width="0.1">Spearman</text>
<text x="398.80" y="501.50" font-size="5.8" text-anchor="end" fill="#2f66ad" stroke="#2f66ad" stroke-width="0.1">r = -0.143</text>
<text x="398.80" y="509.30" font-size="5.8" text-anchor="end" fill="#2f66ad" stroke="#2f66ad" stroke-width="0.1">P = 0.081</text>
<line x1="432.40" y1="425.72" x2="537.30" y2="425.72" stroke="#f2f2f2" stroke-width="0.6"/>
<line x1="432.40" y1="442.17" x2="537.30" y2="442.17" stroke="#f2f2f2" stroke-width="0.6"/>
<line x1="432.40" y1="458.62" x2="537.30" y2="458.62" stroke="#f2f2f2" stroke-width="0.6"/>
<line x1="432.40" y1="475.07" x2="537.30" y2="475.07" stroke="#f2f2f2" stroke-width="0.6"/>
<line x1="432.40" y1="491.52" x2="537.30" y2="491.52" stroke="#f2f2f2" stroke-width="0.6"/>
<line x1="432.40" y1="507.97" x2="537.30" y2="507.97" stroke="#f2f2f2" stroke-width="0.6"/>
<line x1="453.21" y1="414.60" x2="453.21" y2="516.20" stroke="#f2f2f2" stroke-width="0.6"/>
<line x1="488.47" y1="414.60" x2="488.47" y2="516.20" stroke="#f2f2f2" stroke-width="0.6"/>
<line x1="523.73" y1="414.60" x2="523.73" y2="516.20" stroke="#f2f2f2" stroke-width="0.6"/>
<line x1="432.40" y1="417.50" x2="537.30" y2="417.50" stroke="#e3e3e3" stroke-width="0.8"/>
<line x1="432.40" y1="433.95" x2="537.30" y2="433.95" stroke="#e3e3e3" stroke-width="0.8"/>
<line x1="432.40" y1="450.40" x2="537.30" y2="450.40" stroke="#e3e3e3" stroke-width="0.8"/>
<line x1="432.40" y1="466.85" x2="537.30" y2="466.85" stroke="#e3e3e3" stroke-width="0.8"/>
<line x1="432.40" y1="483.30" x2="537.30" y2="483.30" stroke="#e3e3e3" stroke-width="0.8"/>
<line x1="432.40" y1="499.75" x2="537.30" y2="499.75" stroke="#e3e3e3" stroke-width="0.8"/>
<line x1="435.58" y1="414.60" x2="435.58" y2="516.20" stroke="#e3e3e3" stroke-width="0.8"/>
<line x1="470.84" y1="414.60" x2="470.84" y2="516.20" stroke="#e3e3e3" stroke-width="0.8"/>
<line x1="506.10" y1="414.60" x2="506.10" y2="516.20" stroke="#e3e3e3" stroke-width="0.8"/>
<polygon points="436.10,459.32 438.55,459.78 441.00,460.20 443.46,460.57 445.91,460.90 448.36,461.18 450.82,461.41 453.27,461.59 455.72,461.73 458.17,461.85 460.62,461.93 463.08,462.00 465.53,462.04 467.98,462.07 470.44,462.09 472.89,462.10 475.34,462.11 477.79,462.10 480.25,462.10 482.70,462.08 485.15,462.07 487.60,462.05 490.06,462.02 492.51,462.00 494.96,461.97 497.41,461.94 499.87,461.91 502.32,461.88 504.77,461.85 507.22,461.82 509.68,461.78 512.13,461.75 514.58,461.71 517.03,461.67 519.49,461.64 521.94,461.60 524.39,461.56 526.84,461.52 529.30,461.48 531.75,461.44 534.20,461.40 534.20,486.80 531.75,486.16 529.30,485.52 526.84,484.88 524.39,484.24 521.94,483.60 519.49,482.96 517.03,482.33 514.58,481.69 512.13,481.05 509.68,480.42 507.22,479.78 504.77,479.15 502.32,478.52 499.87,477.89 497.41,477.26 494.96,476.63 492.51,476.00 490.06,475.38 487.60,474.75 485.15,474.13 482.70,473.52 480.25,472.90 477.79,472.30 475.34,471.69 472.89,471.10 470.44,470.51 467.98,469.93 465.53,469.36 463.08,468.80 460.62,468.27 458.17,467.75 455.72,467.27 453.27,466.81 450.82,466.39 448.36,466.02 445.91,465.70 443.46,465.43 441.00,465.20 438.55,465.02 436.10,464.88" fill="#9db6d6" fill-opacity="0.55"/>
<g fill="#2a66ad" fill-opacity="0.7" stroke="#184c90" stroke-opacity="0.9" stroke-width="0.55"><circle cx="435.76" cy="417.47" r="1.55"/><circle cx="435.76" cy="428.39" r="1.55"/><circle cx="440.72" cy="426.90" r="1.55"/><circle cx="440.43" cy="436.34" r="1.55"/><circle cx="452.64" cy="437.63" r="1.55"/><circle cx="445.89" cy="443.29" r="1.55"/><circle cx="447.68" cy="445.27" r="1.55"/><circle cx="451.35" cy="445.77" r="1.55"/><circle cx="454.33" cy="445.97" r="1.55"/><circle cx="459.99" cy="445.27" r="1.55"/><circle cx="460.78" cy="449.54" r="1.55"/><circle cx="445.39" cy="453.22" r="1.55"/><circle cx="450.36" cy="453.71" r="1.55"/><circle cx="454.33" cy="453.91" r="1.55"/><circle cx="449.86" cy="456.50" r="1.55"/><circle cx="475.18" cy="455.50" r="1.55"/><circle cx="454.33" cy="459.18" r="1.55"/><circle cx="457.31" cy="459.67" r="1.55"/><circle cx="461.28" cy="459.47" r="1.55"/><circle cx="465.25" cy="461.46" r="1.55"/><circle cx="444.90" cy="459.67" r="1.55"/><circle cx="456.32" cy="469.76" r="1.55"/><circle cx="453.34" cy="472.44" r="1.55"/><circle cx="453.83" cy="475.42" r="1.55"/><circle cx="456.32" cy="476.41" r="1.55"/><circle cx="482.63" cy="473.43" r="1.55"/><circle cx="460.29" cy="465.49" r="1.55"/><circle cx="448.37" cy="484.36" r="1.55"/><circle cx="458.30" cy="482.07" r="1.55"/><circle cx="435.96" cy="493.29" r="1.55"/><circle cx="451.85" cy="493.29" r="1.55"/><circle cx="460.78" cy="496.77" r="1.55"/><circle cx="443.41" cy="509.18" r="1.55"/><circle cx="453.83" cy="510.18" r="1.55"/><circle cx="435.96" cy="486.34" r="1.55"/><circle cx="438.94" cy="482.37" r="1.55"/><circle cx="474.80" cy="465.40" r="1.55"/><circle cx="491.10" cy="466.20" r="1.55"/><circle cx="512.40" cy="472.20" r="1.55"/><circle cx="526.00" cy="462.10" r="1.55"/><circle cx="534.20" cy="455.30" r="1.55"/><circle cx="513.80" cy="493.50" r="1.55"/><circle cx="437.87" cy="452.35" r="1.55"/><circle cx="436.39" cy="444.29" r="1.55"/><circle cx="441.95" cy="451.49" r="1.55"/><circle cx="435.12" cy="443.23" r="1.55"/><circle cx="435.92" cy="441.16" r="1.55"/><circle cx="438.19" cy="439.65" r="1.55"/><circle cx="434.12" cy="437.99" r="1.55"/><circle cx="434.27" cy="456.44" r="1.55"/><circle cx="434.32" cy="449.10" r="1.55"/><circle cx="442.38" cy="449.94" r="1.55"/><circle cx="434.59" cy="461.12" r="1.55"/><circle cx="444.26" cy="437.55" r="1.55"/><circle cx="435.26" cy="450.72" r="1.55"/><circle cx="442.83" cy="447.38" r="1.55"/><circle cx="441.37" cy="443.30" r="1.55"/><circle cx="441.36" cy="445.48" r="1.55"/><circle cx="436.01" cy="458.02" r="1.55"/><circle cx="443.72" cy="460.03" r="1.55"/><circle cx="438.96" cy="448.20" r="1.55"/><circle cx="441.21" cy="454.07" r="1.55"/><circle cx="443.49" cy="459.24" r="1.55"/><circle cx="434.38" cy="446.93" r="1.55"/><circle cx="440.57" cy="442.70" r="1.55"/><circle cx="434.74" cy="436.40" r="1.55"/><circle cx="439.23" cy="463.29" r="1.55"/><circle cx="446.35" cy="439.88" r="1.55"/><circle cx="440.88" cy="448.16" r="1.55"/><circle cx="439.95" cy="447.50" r="1.55"/><circle cx="445.56" cy="464.68" r="1.55"/><circle cx="434.08" cy="456.68" r="1.55"/><circle cx="434.35" cy="437.23" r="1.55"/><circle cx="435.55" cy="457.21" r="1.55"/><circle cx="446.86" cy="439.48" r="1.55"/><circle cx="435.97" cy="436.77" r="1.55"/><circle cx="438.60" cy="450.01" r="1.55"/><circle cx="436.44" cy="444.97" r="1.55"/><circle cx="442.91" cy="460.32" r="1.55"/><circle cx="435.53" cy="447.36" r="1.55"/><circle cx="439.73" cy="458.20" r="1.55"/><circle cx="446.58" cy="447.29" r="1.55"/><circle cx="440.99" cy="451.83" r="1.55"/><circle cx="442.90" cy="440.26" r="1.55"/><circle cx="434.67" cy="439.11" r="1.55"/><circle cx="445.57" cy="443.29" r="1.55"/><circle cx="437.84" cy="439.49" r="1.55"/><circle cx="435.91" cy="436.56" r="1.55"/><circle cx="438.94" cy="440.17" r="1.55"/><circle cx="439.85" cy="443.95" r="1.55"/><circle cx="435.05" cy="449.98" r="1.55"/><circle cx="436.35" cy="443.53" r="1.55"/><circle cx="434.08" cy="437.87" r="1.55"/><circle cx="444.72" cy="444.97" r="1.55"/><circle cx="434.17" cy="441.29" r="1.55"/><circle cx="437.78" cy="464.92" r="1.55"/><circle cx="434.86" cy="461.15" r="1.55"/><circle cx="437.79" cy="448.02" r="1.55"/><circle cx="443.03" cy="447.48" r="1.55"/><circle cx="434.10" cy="451.97" r="1.55"/><circle cx="440.36" cy="454.07" r="1.55"/><circle cx="435.47" cy="463.23" r="1.55"/><circle cx="444.15" cy="464.83" r="1.55"/><circle cx="437.26" cy="460.18" r="1.55"/><circle cx="441.52" cy="441.10" r="1.55"/><circle cx="434.03" cy="440.90" r="1.55"/><circle cx="434.35" cy="438.17" r="1.55"/><circle cx="436.28" cy="457.85" r="1.55"/><circle cx="435.78" cy="450.91" r="1.55"/><circle cx="434.01" cy="442.09" r="1.55"/><circle cx="446.11" cy="436.32" r="1.55"/><circle cx="438.38" cy="459.49" r="1.55"/><circle cx="444.10" cy="477.24" r="1.55"/><circle cx="437.15" cy="478.46" r="1.55"/><circle cx="444.88" cy="477.82" r="1.55"/><circle cx="448.64" cy="465.82" r="1.55"/><circle cx="447.76" cy="471.24" r="1.55"/><circle cx="442.28" cy="468.51" r="1.55"/><circle cx="446.77" cy="464.42" r="1.55"/><circle cx="439.89" cy="468.09" r="1.55"/><circle cx="437.01" cy="470.65" r="1.55"/><circle cx="441.34" cy="478.59" r="1.55"/><circle cx="436.70" cy="475.48" r="1.55"/><circle cx="436.57" cy="469.03" r="1.55"/><circle cx="446.66" cy="469.79" r="1.55"/><circle cx="434.27" cy="470.03" r="1.55"/><circle cx="443.02" cy="467.80" r="1.55"/><circle cx="443.06" cy="473.83" r="1.55"/><circle cx="441.79" cy="467.19" r="1.55"/><circle cx="434.33" cy="466.57" r="1.55"/><circle cx="436.52" cy="471.75" r="1.55"/><circle cx="434.01" cy="473.05" r="1.55"/><circle cx="437.20" cy="469.79" r="1.55"/><circle cx="439.21" cy="481.14" r="1.55"/><circle cx="435.01" cy="479.85" r="1.55"/><circle cx="436.17" cy="477.57" r="1.55"/><circle cx="434.34" cy="481.78" r="1.55"/><circle cx="437.57" cy="481.33" r="1.55"/><circle cx="435.14" cy="471.35" r="1.55"/><circle cx="442.30" cy="467.20" r="1.55"/><circle cx="435.65" cy="476.19" r="1.55"/><circle cx="447.69" cy="469.80" r="1.55"/><circle cx="434.84" cy="470.43" r="1.55"/><circle cx="448.73" cy="466.67" r="1.55"/><circle cx="440.93" cy="470.81" r="1.55"/><circle cx="441.10" cy="467.82" r="1.55"/><circle cx="440.59" cy="479.98" r="1.55"/><circle cx="445.52" cy="475.32" r="1.55"/><circle cx="438.69" cy="474.22" r="1.55"/><circle cx="434.37" cy="479.07" r="1.55"/><circle cx="441.98" cy="472.16" r="1.55"/><circle cx="441.51" cy="471.55" r="1.55"/><circle cx="436.96" cy="468.14" r="1.55"/><circle cx="440.31" cy="474.31" r="1.55"/><circle cx="438.86" cy="464.58" r="1.55"/><circle cx="440.79" cy="472.04" r="1.55"/><circle cx="440.18" cy="474.70" r="1.55"/><circle cx="447.30" cy="466.73" r="1.55"/><circle cx="438.14" cy="481.87" r="1.55"/><circle cx="442.95" cy="469.63" r="1.55"/><circle cx="442.92" cy="481.81" r="1.55"/><circle cx="437.19" cy="479.61" r="1.55"/></g>
<line x1="436.10" y1="462.10" x2="534.20" y2="474.10" stroke="#2360a8" stroke-width="1.1"/>
<rect x="432.40" y="414.60" width="104.90" height="101.60" fill="none" stroke="#444" stroke-width="1.1"/>
<line x1="429.80" y1="417.50" x2="432.40" y2="417.50" stroke="#444" stroke-width="0.7"/>
<text x="427.80" y="419.70" font-size="5.8" text-anchor="end" fill="#1e1e1e" stroke="#1e1e1e" stroke-width="0.1">0.50</text>
<line x1="429.80" y1="433.95" x2="432.40" y2="433.95" stroke="#444" stroke-width="0.7"/>
<text x="427.80" y="436.15" font-size="5.8" text-anchor="end" fill="#1e1e1e" stroke="#1e1e1e" stroke-width="0.1">0.45</text>
<line x1="429.80" y1="450.40" x2="432.40" y2="450.40" stroke="#444" stroke-width="0.7"/>
<text x="427.80" y="452.60" font-size="5.8" text-anchor="end" fill="#1e1e1e" stroke="#1e1e1e" stroke-width="0.1">0.40</text>
<line x1="429.80" y1="466.85" x2="432.40" y2="466.85" stroke="#444" stroke-width="0.7"/>
<text x="427.80" y="469.05" font-size="5.8" text-anchor="end" fill="#1e1e1e" stroke="#1e1e1e" stroke-width="0.1">0.35</text>
<line x1="429.80" y1="483.30" x2="432.40" y2="483.30" stroke="#444" stroke-width="0.7"/>
<text x="427.80" y="485.50" font-size="5.8" text-anchor="end" fill="#1e1e1e" stroke="#1e1e1e" stroke-width="0.1">0.30</text>
<line x1="429.80" y1="499.75" x2="432.40" y2="499.75" stroke="#444" stroke-width="0.7"/>
<text x="427.80" y="501.95" font-size="5.8" text-anchor="end" fill="#1e1e1e" stroke="#1e1e1e" stroke-width="0.1">0.25</text>
<line x1="429.80" y1="516.20" x2="432.40" y2="516.20" stroke="#444" stroke-width="0.7"/>
<text x="427.80" y="518.40" font-size="5.8" text-anchor="end" fill="#1e1e1e" stroke="#1e1e1e" stroke-width="0.1">0.20</text>
<line x1="435.58" y1="516.20" x2="435.58" y2="518.80" stroke="#444" stroke-width="0.7"/>
<text x="435.58" y="525.40" font-size="5.8" text-anchor="middle" fill="#1e1e1e" stroke="#1e1e1e" stroke-width="0.1">0</text>
<line x1="470.84" y1="516.20" x2="470.84" y2="518.80" stroke="#444" stroke-width="0.7"/>
<text x="470.84" y="525.40" font-size="5.8" text-anchor="middle" fill="#1e1e1e" stroke="#1e1e1e" stroke-width="0.1">1</text>
<line x1="506.10" y1="516.20" x2="506.10" y2="518.80" stroke="#444" stroke-width="0.7"/>
<text x="506.10" y="525.40" font-size="5.8" text-anchor="middle" fill="#1e1e1e" stroke="#1e1e1e" stroke-width="0.1">2</text>
<text x="484.85" y="534.10" font-size="6.65" text-anchor="middle" fill="#222" stroke="#222" stroke-width="0.1">The expression of AMBN</text>
<text x="484.85" y="540.80" font-size="6.65" text-anchor="middle" fill="#222" >Log<tspan font-size="4.6" dy="1.6">2</tspan><tspan dy="-1.6"> (TPM+1)</tspan></text>
<text x="413.50" y="465.40" font-size="6.4" text-anchor="middle" fill="#222" stroke="#222" stroke-width="0.1" transform="rotate(-90 413.50 465.40)">Enrichment of Th1 cells</text>
<text x="534.60" y="493.90" font-size="5.8" text-anchor="end" fill="#2f66ad" stroke="#2f66ad" stroke-width="0.1">Spearman</text>
<text x="534.60" y="502.10" font-size="5.8" text-anchor="end" fill="#2f66ad" stroke="#2f66ad" stroke-width="0.1">r = -0.140</text>
<text x="534.60" y="510.40" font-size="5.8" text-anchor="end" fill="#2f66ad" stroke="#2f66ad" stroke-width="0.1">P = 0.087</text></svg></body></html>
